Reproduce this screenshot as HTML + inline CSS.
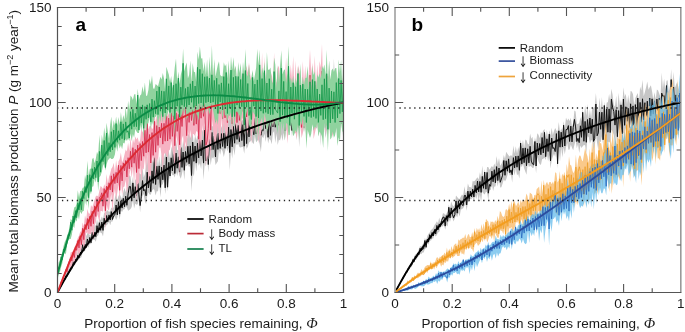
<!DOCTYPE html>
<html><head><meta charset="utf-8"><title>Biomass production</title>
<style>
html,body{margin:0;padding:0;background:#fff;width:685px;height:332px;overflow:hidden}
svg{display:block}
text{font-family:"Liberation Sans",Arial,sans-serif;fill:#1a1a1a}
.t{font-size:13.5px}
.l{font-size:13.5px}
.g{font-size:11.5px}
.ar{font-family:"Noto Serif CJK SC","WenQuanYi Zen Hei",serif;font-size:11.5px;stroke:#1a1a1a;stroke-width:0.4px}
.pl{font-size:19px;font-weight:bold;fill:#000}
</style></head><body>
<svg width="685" height="332" viewBox="0 0 685 332">
<defs><clipPath id="ca"><rect x="57.5" y="7.5" width="286.0" height="285.0"/></clipPath><clipPath id="cb"><rect x="395.0" y="7.5" width="285.8" height="285.0"/></clipPath></defs>
<rect width="685" height="332" fill="#fff"/>
<g clip-path="url(#ca)">
<path d="M57.5 292.0L58.7 287.7L59.9 286.9L61.1 284.5L62.3 281.5L63.5 279.2L64.7 277.5L65.9 272.5L67.1 273.0L68.3 268.6L69.5 267.2L70.7 266.5L71.9 262.4L73.1 259.5L74.3 259.9L75.4 255.4L76.6 257.4L77.8 250.4L79.0 249.5L80.2 247.2L81.4 245.3L82.6 242.5L83.8 244.3L85.0 241.2L86.2 236.1L87.4 233.3L88.6 232.5L89.8 235.2L91.0 235.5L92.2 229.5L93.4 230.7L94.6 224.2L95.8 226.0L97.0 219.4L98.2 225.0L99.4 217.8L100.6 220.3L101.8 216.4L103.0 218.9L104.2 212.7L105.4 213.2L106.6 210.9L107.8 210.2L109.0 211.9L110.2 211.1L111.3 207.4L112.5 208.3L113.7 207.2L114.9 197.5L116.1 193.5L117.3 200.1L118.5 195.9L119.7 194.3L120.9 196.8L122.1 199.3L123.3 192.1L124.5 187.7L125.7 192.3L126.9 187.4L128.1 185.4L129.3 175.1L130.5 176.4L131.7 185.5L132.9 176.7L134.1 188.0L135.3 179.1L136.5 180.9L137.7 170.4L138.9 171.9L140.1 174.3L141.3 174.1L142.5 167.2L143.7 177.4L144.9 173.9L146.1 165.2L147.2 156.3L148.4 169.7L149.6 164.0L150.8 164.9L152.0 158.9L153.2 163.6L154.4 142.1L155.6 162.9L156.8 154.2L158.0 166.3L159.2 156.3L160.4 166.7L161.6 154.5L162.8 154.5L164.0 158.6L165.2 152.8L166.4 140.1L167.6 148.4L168.8 151.2L170.0 159.3L171.2 148.9L172.4 145.0L173.6 142.4L174.8 146.5L176.0 138.7L177.2 150.0L178.4 150.2L179.6 149.6L180.8 138.0L182.0 150.6L183.1 140.3L184.3 145.7L185.5 146.7L186.7 140.0L187.9 134.8L189.1 133.9L190.3 138.0L191.5 132.5L192.7 134.2L193.9 144.2L195.1 134.4L196.3 140.2L197.5 135.2L198.7 138.7L199.9 123.8L201.1 140.2L202.3 130.3L203.5 130.8L204.7 124.9L205.9 130.9L207.1 123.6L208.3 133.9L209.5 127.6L210.7 121.6L211.9 125.9L213.1 126.6L214.3 116.4L215.5 134.3L216.7 127.0L217.9 124.2L219.0 113.5L220.2 129.7L221.4 126.1L222.6 130.7L223.8 117.9L225.0 120.1L226.2 122.2L227.4 113.4L228.6 121.6L229.8 112.2L231.0 115.8L232.2 127.1L233.4 113.5L234.6 116.1L235.8 104.8L237.0 122.7L238.2 115.7L239.4 110.3L240.6 104.2L241.8 121.0L243.0 119.4L244.2 121.9L245.4 92.3L246.6 115.2L247.8 110.1L249.0 119.7L250.2 112.2L251.4 117.1L252.6 89.2L253.8 112.3L254.9 110.6L256.1 115.0L257.3 103.9L258.5 112.4L259.7 108.7L260.9 106.2L262.1 100.8L263.3 115.0L264.5 95.2L265.7 112.0L266.9 96.5L268.1 104.1L269.3 103.6L270.5 98.6L271.7 100.1L272.9 108.9L274.1 92.3L275.3 101.8L276.5 84.5L277.7 106.3L278.9 94.6L280.1 97.0L281.3 79.4L282.5 95.5L283.7 80.1L284.9 92.0L286.1 96.2L287.3 103.6L288.5 75.1L289.7 105.8L290.8 83.7L292.0 104.5L293.2 76.3L294.4 100.3L295.6 98.4L296.8 101.1L298.0 87.7L299.2 93.1L300.4 84.1L301.6 92.9L302.8 89.5L304.0 86.1L305.2 87.6L306.4 93.6L307.6 86.3L308.8 94.7L310.0 79.7L311.2 89.2L312.4 87.4L313.6 93.4L314.8 84.4L316.0 81.2L317.2 85.4L318.4 96.9L319.6 81.9L320.8 89.9L322.0 84.8L323.2 87.3L324.4 83.0L325.6 87.3L326.7 93.8L327.9 94.8L329.1 60.9L330.3 86.4L331.5 91.6L332.7 90.5L333.9 58.5L335.1 86.6L336.3 70.8L337.5 81.3L338.7 79.0L339.9 80.4L341.1 75.7L342.3 82.4L343.5 72.5L343.5 114.6L342.3 136.0L341.1 115.2L339.9 135.7L338.7 124.1L337.5 122.6L336.3 129.2L335.1 133.3L333.9 121.6L332.7 124.2L331.5 117.7L330.3 125.8L329.1 130.5L327.9 128.6L326.7 130.7L325.6 138.2L324.4 127.7L323.2 126.0L322.0 117.1L320.8 145.9L319.6 119.5L318.4 120.9L317.2 127.8L316.0 128.7L314.8 126.0L313.6 130.4L312.4 119.1L311.2 131.4L310.0 132.4L308.8 131.7L307.6 129.1L306.4 142.1L305.2 119.9L304.0 133.0L302.8 120.1L301.6 132.1L300.4 125.0L299.2 147.3L298.0 123.7L296.8 140.6L295.6 126.8L294.4 132.6L293.2 124.5L292.0 137.1L290.8 124.2L289.7 134.6L288.5 127.6L287.3 131.8L286.1 129.2L284.9 140.6L283.7 132.8L282.5 141.0L281.3 134.3L280.1 140.5L278.9 139.4L277.7 145.1L276.5 133.6L275.3 142.9L274.1 131.1L272.9 133.0L271.7 144.2L270.5 139.9L269.3 138.7L268.1 143.6L266.9 133.0L265.7 141.9L264.5 133.7L263.3 138.3L262.1 136.4L260.9 151.9L259.7 144.2L258.5 139.6L257.3 140.7L256.1 142.3L254.9 135.3L253.8 144.1L252.6 143.0L251.4 139.8L250.2 141.8L249.0 142.4L247.8 146.7L246.6 149.0L245.4 143.2L244.2 153.8L243.0 146.8L241.8 147.0L240.6 147.5L239.4 147.1L238.2 143.2L237.0 145.3L235.8 143.5L234.6 155.5L233.4 147.2L232.2 158.4L231.0 148.8L229.8 170.3L228.6 147.6L227.4 151.6L226.2 146.5L225.0 152.1L223.8 157.1L222.6 151.6L221.4 148.8L220.2 154.8L219.0 149.9L217.9 161.3L216.7 163.0L215.5 165.0L214.3 156.0L213.1 158.8L211.9 156.9L210.7 165.2L209.5 154.6L208.3 172.3L207.1 156.3L205.9 166.2L204.7 162.5L203.5 180.1L202.3 158.1L201.1 169.2L199.9 162.9L198.7 165.7L197.5 161.0L196.3 171.4L195.1 161.9L193.9 176.6L192.7 173.3L191.5 191.6L190.3 165.0L189.1 167.2L187.9 164.5L186.7 166.2L185.5 165.4L184.3 180.1L183.1 167.4L182.0 174.0L180.8 178.8L179.6 176.1L178.4 170.9L177.2 176.0L176.0 171.0L174.8 177.4L173.6 174.9L172.4 175.3L171.2 172.5L170.0 179.6L168.8 173.9L167.6 191.3L166.4 184.4L165.2 193.9L164.0 180.4L162.8 184.0L161.6 185.5L160.4 197.3L159.2 182.5L158.0 191.4L156.8 190.9L155.6 195.5L154.4 190.1L153.2 189.1L152.0 190.8L150.8 194.7L149.6 194.6L148.4 192.2L147.2 195.9L146.1 204.1L144.9 201.6L143.7 194.1L142.5 195.8L141.3 200.0L140.1 212.6L138.9 198.9L137.7 204.2L136.5 204.8L135.3 203.5L134.1 208.5L132.9 199.4L131.7 206.9L130.5 209.0L129.3 209.9L128.1 210.8L126.9 207.5L125.7 206.8L124.5 209.3L123.3 209.5L122.1 212.1L120.9 210.7L119.7 219.8L118.5 212.0L117.3 217.5L116.1 220.1L114.9 216.7L113.7 217.5L112.5 221.5L111.3 221.4L110.2 225.3L109.0 221.4L107.8 224.2L106.6 225.1L105.4 226.7L104.2 227.6L103.0 236.5L101.8 233.2L100.6 232.6L99.4 232.3L98.2 235.5L97.0 236.3L95.8 241.8L94.6 239.8L93.4 239.8L92.2 240.7L91.0 244.5L89.8 243.0L88.6 247.4L87.4 246.6L86.2 248.4L85.0 250.7L83.8 252.0L82.6 252.4L81.4 257.2L80.2 257.9L79.0 259.6L77.8 260.1L76.6 261.7L75.4 264.2L74.3 265.5L73.1 266.4L71.9 270.0L70.7 270.6L69.5 272.6L68.3 274.9L67.1 276.7L65.9 278.2L64.7 280.7L63.5 282.0L62.3 284.6L61.1 286.8L59.9 288.8L58.7 290.6L57.5 292.8Z" fill="#c6c6c6"/>
<path d="M57.5 292.7L58.7 288.5L59.9 288.2L61.1 286.1L62.3 284.0L63.5 280.7L64.7 279.9L65.9 275.8L67.1 276.3L68.3 272.1L69.5 271.8L70.7 267.8L71.9 268.4L73.1 261.7L74.3 264.4L75.4 259.1L76.6 261.2L77.8 255.2L79.0 257.8L80.2 252.0L81.4 254.1L82.6 244.7L83.8 250.9L85.0 244.1L86.2 247.5L87.4 239.0L88.6 244.1L89.8 237.4L91.0 242.8L92.2 232.2L93.4 238.4L94.6 232.4L95.8 236.7L97.0 225.7L98.2 232.5L99.4 222.7L100.6 230.3L101.8 222.0L103.0 230.4L104.2 218.2L105.4 224.4L106.6 215.5L107.8 221.7L109.0 214.9L110.2 220.0L111.3 211.6L112.5 219.5L113.7 215.6L114.9 214.8L116.1 205.0L117.3 214.8L118.5 201.7L119.7 214.1L120.9 200.8L122.1 208.1L123.3 198.3L124.5 206.7L125.7 196.2L126.9 205.3L128.1 193.9L129.3 186.6L130.5 186.6L131.7 200.8L132.9 182.9L134.1 197.8L135.3 186.7L136.5 195.6L137.7 180.5L138.9 194.8L140.1 205.6L141.3 196.8L142.5 180.6L143.7 190.9L144.9 189.5L146.1 195.8L147.2 172.1L148.4 188.0L149.6 176.5L150.8 191.7L152.0 170.9L153.2 183.3L154.4 156.5L155.6 184.5L156.8 166.2L158.0 179.4L159.2 165.9L160.4 187.4L161.6 167.2L162.8 179.8L164.0 165.1L165.2 187.8L166.4 157.1L167.6 187.2L168.8 162.3L170.0 176.0L171.2 157.8L172.4 170.9L173.6 148.3L174.8 173.5L176.0 153.1L177.2 168.2L178.4 156.8L179.6 172.1L180.8 147.5L182.0 167.4L183.1 152.0L184.3 170.3L185.5 151.5L186.7 162.3L187.9 146.3L189.1 163.8L190.3 145.9L191.5 175.5L192.7 142.1L193.9 161.4L195.1 146.0L196.3 163.1L197.5 143.2L198.7 157.9L199.9 128.5L201.1 155.9L202.3 140.0L203.5 163.1L204.7 130.1L205.9 160.9L207.1 133.4L208.3 164.5L209.5 136.2L210.7 150.1L211.9 132.4L213.1 149.6L214.3 136.2L215.5 157.0L216.7 133.5L217.9 149.4L219.0 133.1L220.2 148.4L221.4 133.6L222.6 146.5L223.8 133.2L225.0 148.3L226.2 128.8L227.4 146.0L228.6 127.2L229.8 152.6L231.0 129.5L232.2 146.8L233.4 126.5L234.6 143.2L235.8 123.0L237.0 139.4L238.2 125.4L239.4 141.7L240.6 117.4L241.8 140.6L243.0 124.7L244.2 146.2L245.4 107.8L246.6 143.6L247.8 119.7L249.0 136.9L250.2 119.1L251.4 135.6L252.6 110.6L253.8 134.7L254.9 117.7L256.1 134.0L257.3 114.6L258.5 134.3L259.7 117.6L260.9 135.3L262.1 129.8L263.3 130.6L264.5 112.0L265.7 128.6L266.9 112.8L268.1 137.3L269.3 108.7L270.5 135.3L271.7 110.6L272.9 126.8L274.1 111.2L275.3 127.2L276.5 106.6L277.7 125.3L278.9 101.9L280.1 124.1L281.3 101.6L282.5 124.2L283.7 102.4L284.9 131.0L286.1 109.7L287.3 122.3L288.5 97.6L289.7 126.1L290.8 93.2L292.0 130.5L293.2 95.0L294.4 124.4L295.6 104.1L296.8 120.3L298.0 96.4L299.2 127.4L300.4 102.8L301.6 123.0L302.8 103.7L304.0 127.6L305.2 96.5L306.4 123.0L307.6 91.7L308.8 119.0L310.0 102.8L311.2 122.7L312.4 93.2L313.6 118.0L314.8 119.7L316.0 117.4L317.2 99.4L318.4 115.8L319.6 93.4L320.8 125.0L322.0 98.9L323.2 113.9L324.4 96.0L325.6 125.3L326.7 99.7L327.9 119.0L329.1 81.1L330.3 116.1L331.5 97.7L332.7 111.9L333.9 79.0L335.1 115.1L336.3 85.2L337.5 114.7L338.7 91.9L339.9 114.2L341.1 84.8L342.3 124.0L343.5 85.8" fill="none" stroke="#111111" stroke-width="1.00" stroke-linejoin="miter" stroke-miterlimit="3"/>
<path d="M57.5 291.6L58.7 288.3L59.9 284.4L61.1 279.9L62.3 279.0L63.5 275.3L64.7 271.9L65.9 268.8L67.1 265.0L68.3 262.4L69.5 259.4L70.7 252.3L71.9 252.2L73.1 250.6L74.3 247.9L75.4 245.4L76.6 241.2L77.8 238.0L79.0 235.8L80.2 231.8L81.4 231.3L82.6 222.5L83.8 226.6L85.0 215.2L86.2 219.9L87.4 209.1L88.6 213.3L89.8 213.7L91.0 205.0L92.2 207.3L93.4 204.1L94.6 199.8L95.8 196.2L97.0 195.5L98.2 196.6L99.4 190.4L100.6 185.9L101.8 187.1L103.0 189.1L104.2 184.2L105.4 187.3L106.6 173.9L107.8 183.8L109.0 177.1L110.2 173.6L111.3 168.8L112.5 166.9L113.7 162.8L114.9 172.7L116.1 160.1L117.3 169.0L118.5 161.2L119.7 159.1L120.9 152.6L122.1 162.4L123.3 159.4L124.5 154.6L125.7 149.4L126.9 151.4L128.1 142.8L129.3 150.9L130.5 137.4L131.7 149.7L132.9 138.4L134.1 143.2L135.3 136.6L136.5 139.4L137.7 137.2L138.9 142.6L140.1 140.2L141.3 129.0L142.5 131.8L143.7 133.3L144.9 114.0L146.1 135.0L147.2 117.8L148.4 129.6L149.6 125.9L150.8 125.9L152.0 128.7L153.2 128.4L154.4 111.0L155.6 122.7L156.8 114.7L158.0 120.2L159.2 114.8L160.4 116.0L161.6 111.8L162.8 117.9L164.0 111.5L165.2 118.1L166.4 98.7L167.6 116.4L168.8 112.8L170.0 107.1L171.2 92.5L172.4 107.3L173.6 93.4L174.8 111.5L176.0 104.0L177.2 96.1L178.4 108.8L179.6 108.1L180.8 104.7L182.0 104.3L183.1 99.8L184.3 89.0L185.5 99.1L186.7 102.9L187.9 92.0L189.1 106.0L190.3 94.7L191.5 100.7L192.7 93.1L193.9 103.4L195.1 81.8L196.3 100.5L197.5 83.2L198.7 98.0L199.9 86.8L201.1 101.4L202.3 81.5L203.5 91.7L204.7 88.4L205.9 92.1L207.1 79.6L208.3 93.1L209.5 93.9L210.7 90.6L211.9 75.3L213.1 68.1L214.3 86.0L215.5 86.6L216.7 86.7L217.9 90.5L219.0 80.1L220.2 88.1L221.4 86.2L222.6 91.0L223.8 78.0L225.0 89.0L226.2 81.4L227.4 93.5L228.6 88.1L229.8 72.6L231.0 87.1L232.2 90.8L233.4 64.2L234.6 70.0L235.8 66.2L237.0 91.0L238.2 67.9L239.4 86.3L240.6 65.0L241.8 84.0L243.0 74.8L244.2 87.5L245.4 65.0L246.6 67.0L247.8 72.7L249.0 62.6L250.2 74.2L251.4 80.7L252.6 71.8L253.8 88.0L254.9 79.0L256.1 78.1L257.3 72.4L258.5 83.9L259.7 61.1L260.9 84.6L262.1 52.4L263.3 89.0L264.5 56.6L265.7 83.8L266.9 72.0L268.1 85.2L269.3 69.6L270.5 79.1L271.7 73.0L272.9 83.4L274.1 52.6L275.3 82.9L276.5 82.2L277.7 68.2L278.9 65.5L280.1 88.1L281.3 68.9L282.5 81.5L283.7 78.9L284.9 81.6L286.1 57.2L287.3 86.9L288.5 71.8L289.7 80.2L290.8 64.6L292.0 80.1L293.2 56.0L294.4 89.5L295.6 60.6L296.8 85.6L298.0 65.1L299.2 70.1L300.4 76.2L301.6 88.9L302.8 60.9L304.0 83.7L305.2 65.6L306.4 84.6L307.6 84.7L308.8 73.0L310.0 49.5L311.2 73.8L312.4 62.8L313.6 83.6L314.8 55.5L316.0 88.4L317.2 64.3L318.4 80.7L319.6 60.9L320.8 67.7L322.0 43.6L323.2 90.6L324.4 69.8L325.6 88.1L326.7 77.2L327.9 74.9L329.1 78.3L330.3 79.6L331.5 81.6L332.7 76.4L333.9 76.9L335.1 83.8L336.3 76.6L337.5 80.0L338.7 79.9L339.9 75.8L341.1 74.8L342.3 81.4L343.5 79.9L343.5 123.9L342.3 121.1L341.1 118.8L339.9 129.2L338.7 118.0L337.5 127.7L336.3 123.6L335.1 121.1L333.9 119.3L332.7 137.5L331.5 131.7L330.3 132.8L329.1 115.7L327.9 137.1L326.7 116.1L325.6 134.6L324.4 119.3L323.2 129.8L322.0 133.5L320.8 123.2L319.6 116.8L318.4 136.4L317.2 118.8L316.0 127.9L314.8 133.4L313.6 139.0L312.4 113.4L311.2 128.2L310.0 123.5L308.8 127.1L307.6 118.3L306.4 119.8L305.2 130.2L304.0 125.5L302.8 133.2L301.6 137.9L300.4 125.7L299.2 130.1L298.0 114.6L296.8 138.8L295.6 133.1L294.4 133.3L293.2 126.8L292.0 126.1L290.8 113.4L289.7 120.5L288.5 128.8L287.3 143.8L286.1 119.7L284.9 139.8L283.7 111.1L282.5 123.8L281.3 122.2L280.1 139.2L278.9 124.9L277.7 114.8L276.5 121.8L275.3 123.5L274.1 120.2L272.9 127.0L271.7 121.0L270.5 115.9L269.3 112.5L268.1 128.5L266.9 129.1L265.7 125.2L264.5 121.7L263.3 123.3L262.1 112.0L260.9 138.7L259.7 131.6L258.5 143.5L257.3 128.1L256.1 134.2L254.9 117.5L253.8 132.7L252.6 125.2L251.4 143.8L250.2 128.1L249.0 116.2L247.8 135.0L246.6 128.2L245.4 112.9L244.2 135.0L243.0 117.4L241.8 121.3L240.6 131.2L239.4 139.1L238.2 113.8L237.0 131.0L235.8 125.8L234.6 121.8L233.4 123.1L232.2 133.8L231.0 119.8L229.8 119.6L228.6 118.4L227.4 133.5L226.2 138.5L225.0 131.2L223.8 121.7L222.6 141.3L221.4 116.7L220.2 144.0L219.0 139.4L217.9 125.4L216.7 136.5L215.5 145.1L214.3 141.4L213.1 129.9L211.9 118.2L210.7 159.1L209.5 138.7L208.3 159.7L207.1 155.3L205.9 166.9L204.7 122.2L203.5 136.9L202.3 125.0L201.1 149.4L199.9 139.2L198.7 150.9L197.5 131.9L196.3 131.1L195.1 136.3L193.9 134.3L192.7 133.8L191.5 140.7L190.3 129.8L189.1 141.2L187.9 130.3L186.7 149.5L185.5 141.6L184.3 152.4L183.1 135.4L182.0 138.3L180.8 150.0L179.6 176.0L178.4 152.5L177.2 140.8L176.0 135.2L174.8 166.0L173.6 158.0L172.4 148.6L171.2 140.4L170.0 149.6L168.8 150.7L167.6 157.7L166.4 155.3L165.2 152.4L164.0 154.4L162.8 170.3L161.6 156.2L160.4 147.6L159.2 147.7L158.0 161.3L156.8 157.4L155.6 177.4L154.4 157.0L153.2 162.4L152.0 156.2L150.8 175.9L149.6 174.2L148.4 183.3L147.2 153.6L146.1 173.3L144.9 156.5L143.7 169.6L142.5 168.3L141.3 182.2L140.1 165.3L138.9 182.8L137.7 184.2L136.5 201.7L135.3 163.6L134.1 184.3L132.9 167.2L131.7 177.7L130.5 168.3L129.3 176.0L128.1 185.1L126.9 193.7L125.7 179.5L124.5 186.6L123.3 187.1L122.1 195.6L120.9 178.4L119.7 200.6L118.5 184.0L117.3 192.6L116.1 199.6L114.9 189.1L113.7 196.6L112.5 213.4L111.3 193.7L110.2 200.4L109.0 210.5L107.8 209.2L106.6 204.3L105.4 230.8L104.2 200.8L103.0 211.7L101.8 211.0L100.6 210.9L99.4 222.6L98.2 217.1L97.0 214.1L95.8 222.3L94.6 225.6L93.4 240.2L92.2 229.4L91.0 234.6L89.8 233.8L88.6 234.3L87.4 232.4L86.2 232.9L85.0 243.6L83.8 247.2L82.6 242.2L81.4 248.3L80.2 251.3L79.0 257.4L77.8 249.8L76.6 256.5L75.4 257.7L74.3 265.4L73.1 259.8L71.9 266.7L70.7 267.6L69.5 267.1L68.3 270.3L67.1 273.5L65.9 272.6L64.7 276.0L63.5 280.0L62.3 284.4L61.1 285.0L59.9 287.8L58.7 290.1L57.5 293.9Z" fill="#f6b3c3"/>
<path d="M57.5 292.8L58.7 289.0L59.9 286.8L61.1 282.2L62.3 282.6L63.5 275.9L64.7 274.9L65.9 269.7L67.1 271.8L68.3 263.9L69.5 260.4L70.7 257.4L71.9 261.1L73.1 252.5L74.3 257.5L75.4 246.8L76.6 250.3L77.8 240.6L79.0 247.9L80.2 235.9L81.4 244.7L82.6 228.3L83.8 239.7L85.0 224.5L86.2 229.6L87.4 218.5L88.6 229.0L89.8 216.3L91.0 226.3L92.2 211.3L93.4 223.7L94.6 205.9L95.8 216.5L97.0 198.8L98.2 211.5L99.4 197.3L100.6 196.8L101.8 192.8L103.0 206.2L104.2 188.6L105.4 210.8L106.6 186.1L107.8 197.6L109.0 182.8L110.2 189.9L111.3 175.8L112.5 192.1L113.7 173.8L114.9 183.6L116.1 172.4L117.3 182.9L118.5 165.2L119.7 190.3L120.9 165.5L122.1 180.9L123.3 162.9L124.5 170.8L125.7 160.5L126.9 177.0L128.1 157.7L129.3 168.8L130.5 151.3L131.7 167.1L132.9 147.7L134.1 163.2L135.3 149.2L136.5 172.5L137.7 145.1L138.9 168.6L140.1 143.6L141.3 160.6L142.5 141.5L143.7 156.2L144.9 130.3L146.1 152.8L147.2 122.9L148.4 152.1L149.6 134.5L150.8 163.0L152.0 132.6L153.2 155.4L154.4 121.3L155.6 152.2L156.8 125.6L158.0 145.4L159.2 127.0L160.4 137.9L161.6 123.3L162.8 144.1L164.0 123.3L165.2 141.2L166.4 110.4L167.6 141.0L168.8 118.0L170.0 139.2L171.2 112.8L172.4 136.4L173.6 113.3L174.8 145.7L176.0 112.9L177.2 131.4L178.4 114.3L179.6 144.8L180.8 111.4L182.0 126.5L183.1 110.1L184.3 103.1L185.5 109.2L186.7 135.7L187.9 102.6L189.1 122.4L190.3 104.5L191.5 120.5L192.7 108.0L193.9 125.4L195.1 105.1L196.3 124.1L197.5 100.5L198.7 139.2L199.9 99.3L201.1 118.2L202.3 97.3L203.5 116.3L204.7 100.8L205.9 145.1L207.1 141.2L208.3 128.8L209.5 100.8L210.7 130.1L211.9 84.0L213.1 93.7L214.3 93.9L215.5 121.8L216.7 98.5L217.9 113.5L219.0 92.6L220.2 113.6L221.4 93.7L222.6 118.7L223.8 96.0L225.0 117.9L226.2 92.2L227.4 122.6L228.6 95.4L229.8 111.2L231.0 94.1L232.2 123.8L233.4 92.3L234.6 112.5L235.8 94.6L237.0 122.6L238.2 91.2L239.4 120.4L240.6 91.0L241.8 111.4L243.0 90.4L244.2 124.9L245.4 92.1L246.6 117.0L247.8 85.7L249.0 75.3L250.2 92.8L251.4 124.2L252.6 93.2L253.8 110.9L254.9 87.1L256.1 116.5L257.3 85.7L258.5 128.1L259.7 89.5L260.9 111.4L262.1 83.5L263.3 111.0L264.5 87.6L265.7 110.2L266.9 82.5L268.1 118.0L269.3 84.6L270.5 109.7L271.7 82.8L272.9 110.3L274.1 79.5L275.3 114.4L276.5 90.3L277.7 107.9L278.9 91.0L280.1 111.0L281.3 88.1L282.5 91.9L283.7 88.5L284.9 114.5L286.1 83.1L287.3 115.8L288.5 87.3L289.7 113.3L290.8 88.9L292.0 116.2L293.2 84.8L294.4 115.1L295.6 88.4L296.8 120.2L298.0 87.8L299.2 115.8L300.4 85.9L301.6 127.5L302.8 90.8L304.0 118.8L305.2 87.2L306.4 109.7L307.6 108.5L308.8 116.7L310.0 75.2L311.2 114.6L312.4 85.4L313.6 122.2L314.8 85.1L316.0 116.6L317.2 87.8L318.4 114.5L319.6 90.4L320.8 113.3L322.0 71.2L323.2 111.3L324.4 91.1L325.6 117.3L326.7 94.7L327.9 110.3L329.1 92.6L330.3 117.0L331.5 88.2L332.7 114.5L333.9 84.3L335.1 110.1L336.3 88.7L337.5 111.3L338.7 91.8L339.9 118.8L341.1 94.5L342.3 111.9L343.5 90.4" fill="none" stroke="#d42c4c" stroke-width="0.85" stroke-linejoin="miter" stroke-miterlimit="3"/>
<path d="M57.5 271.9L58.7 262.3L59.9 260.0L61.1 254.9L62.3 252.8L63.5 246.2L64.7 241.9L65.9 239.5L67.1 235.8L68.3 232.4L69.5 227.3L70.7 219.1L71.9 220.3L73.1 212.9L74.3 207.2L75.4 207.1L76.6 203.8L77.8 190.3L79.0 197.5L80.2 191.0L81.4 190.9L82.6 187.7L83.8 187.6L85.0 175.0L86.2 180.2L87.4 160.7L88.6 176.3L89.8 169.0L91.0 168.4L92.2 159.0L93.4 157.8L94.6 163.2L95.8 158.7L97.0 151.8L98.2 154.7L99.4 134.7L100.6 152.5L101.8 134.8L103.0 141.8L104.2 127.2L105.4 138.0L106.6 122.7L107.8 131.6L109.0 138.7L110.2 124.4L111.3 116.6L112.5 130.1L113.7 120.2L114.9 125.5L116.1 116.4L117.3 125.8L118.5 117.0L119.7 125.1L120.9 112.1L122.1 122.1L123.3 115.1L124.5 119.8L125.7 106.7L126.9 118.6L128.1 100.8L129.3 110.0L130.5 95.6L131.7 96.9L132.9 100.1L134.1 94.5L135.3 94.1L136.5 104.2L137.7 88.6L138.9 99.9L140.1 95.5L141.3 94.2L142.5 86.3L143.7 92.8L144.9 82.4L146.1 95.9L147.2 95.5L148.4 90.0L149.6 78.7L150.8 84.2L152.0 75.3L153.2 88.6L154.4 88.8L155.6 84.1L156.8 85.0L158.0 86.3L159.2 81.4L160.4 76.8L161.6 79.6L162.8 73.0L164.0 78.6L165.2 91.6L166.4 66.7L167.6 70.8L168.8 74.4L170.0 82.0L171.2 76.1L172.4 88.2L173.6 79.3L174.8 67.0L176.0 58.4L177.2 82.0L178.4 71.4L179.6 84.1L180.8 74.7L182.0 69.9L183.1 48.6L184.3 71.5L185.5 66.1L186.7 62.5L187.9 78.5L189.1 75.1L190.3 60.5L191.5 82.6L192.7 63.1L193.9 71.8L195.1 72.2L196.3 82.3L197.5 51.5L198.7 59.8L199.9 46.4L201.1 58.6L202.3 58.3L203.5 71.6L204.7 61.7L205.9 75.0L207.1 59.3L208.3 79.7L209.5 56.5L210.7 75.4L211.9 45.2L213.1 78.9L214.3 59.1L215.5 76.9L216.7 70.2L217.9 64.4L219.0 61.3L220.2 75.0L221.4 76.3L222.6 76.2L223.8 62.3L225.0 66.6L226.2 64.1L227.4 78.4L228.6 60.5L229.8 79.9L231.0 56.2L232.2 70.0L233.4 57.3L234.6 70.9L235.8 65.6L237.0 82.6L238.2 62.1L239.4 73.0L240.6 62.9L241.8 80.4L243.0 61.7L244.2 73.9L245.4 49.1L246.6 73.9L247.8 76.6L249.0 64.5L250.2 80.4L251.4 77.3L252.6 70.0L253.8 81.3L254.9 75.1L256.1 67.9L257.3 48.7L258.5 65.3L259.7 49.8L260.9 80.8L262.1 67.5L263.3 73.3L264.5 61.9L265.7 86.7L266.9 52.0L268.1 69.8L269.3 69.8L270.5 67.5L271.7 80.2L272.9 84.1L274.1 57.5L275.3 64.5L276.5 88.0L277.7 64.9L278.9 82.8L280.1 65.9L281.3 50.2L282.5 74.4L283.7 70.5L284.9 69.3L286.1 82.7L287.3 73.6L288.5 45.9L289.7 82.4L290.8 77.2L292.0 84.1L293.2 75.4L294.4 86.5L295.6 77.7L296.8 83.3L298.0 66.1L299.2 87.7L300.4 63.8L301.6 89.1L302.8 76.6L304.0 85.6L305.2 78.0L306.4 77.7L307.6 65.9L308.8 88.8L310.0 73.5L311.2 90.9L312.4 65.8L313.6 74.9L314.8 71.5L316.0 90.5L317.2 74.6L318.4 77.6L319.6 73.2L320.8 79.0L322.0 65.8L323.2 69.0L324.4 64.4L325.6 75.8L326.7 49.8L327.9 83.2L329.1 60.3L330.3 79.7L331.5 70.5L332.7 68.5L333.9 72.0L335.1 68.3L336.3 67.9L337.5 81.8L338.7 59.6L339.9 73.1L341.1 59.4L342.3 86.5L343.5 53.4L343.5 132.9L342.3 130.9L341.1 121.5L339.9 142.3L338.7 137.2L337.5 145.9L336.3 127.6L335.1 135.2L333.9 137.7L332.7 131.5L331.5 137.8L330.3 139.4L329.1 119.2L327.9 151.0L326.7 123.2L325.6 129.5L324.4 122.8L323.2 148.0L322.0 136.4L320.8 133.4L319.6 131.5L318.4 136.6L317.2 122.9L316.0 127.8L314.8 126.8L313.6 130.8L312.4 124.3L311.2 134.0L310.0 137.9L308.8 134.1L307.6 129.6L306.4 148.7L305.2 121.9L304.0 132.0L302.8 117.3L301.6 125.4L300.4 120.8L299.2 139.9L298.0 124.1L296.8 132.9L295.6 130.2L294.4 134.0L293.2 136.2L292.0 127.7L290.8 121.3L289.7 135.0L288.5 135.3L287.3 124.3L286.1 122.7L284.9 140.5L283.7 121.7L282.5 130.8L281.3 121.4L280.1 139.2L278.9 117.8L277.7 133.3L276.5 127.1L275.3 124.1L274.1 117.9L272.9 125.0L271.7 121.2L270.5 127.7L269.3 121.0L268.1 126.9L266.9 132.2L265.7 119.6L264.5 113.6L263.3 131.1L262.1 116.9L260.9 121.0L259.7 123.8L258.5 138.2L257.3 112.4L256.1 142.8L254.9 115.1L253.8 113.4L252.6 110.9L251.4 127.8L250.2 127.7L249.0 124.6L247.8 108.1L246.6 112.6L245.4 118.0L244.2 134.9L243.0 107.9L241.8 114.4L240.6 122.3L239.4 115.4L238.2 113.5L237.0 111.2L235.8 112.4L234.6 127.2L233.4 110.2L232.2 128.0L231.0 112.0L229.8 116.3L228.6 114.2L227.4 122.1L226.2 114.8L225.0 115.8L223.8 105.2L222.6 121.1L221.4 108.7L220.2 114.7L219.0 107.2L217.9 124.9L216.7 118.7L215.5 123.9L214.3 116.6L213.1 110.5L211.9 103.7L210.7 108.2L209.5 115.0L208.3 108.7L207.1 107.5L205.9 112.8L204.7 103.2L203.5 114.6L202.3 104.8L201.1 113.6L199.9 103.4L198.7 120.4L197.5 116.0L196.3 113.2L195.1 103.8L193.9 123.9L192.7 109.6L191.5 112.3L190.3 112.5L189.1 111.9L187.9 116.8L186.7 119.7L185.5 106.0L184.3 114.5L183.1 107.7L182.0 114.2L180.8 115.9L179.6 121.0L178.4 112.9L177.2 111.0L176.0 111.3L174.8 135.1L173.6 115.2L172.4 117.4L171.2 111.3L170.0 122.8L168.8 109.8L167.6 113.9L166.4 116.8L165.2 121.5L164.0 111.1L162.8 122.8L161.6 112.6L160.4 122.6L159.2 115.1L158.0 129.6L156.8 114.5L155.6 116.9L154.4 117.5L153.2 125.5L152.0 121.6L150.8 129.8L149.6 116.8L148.4 123.2L147.2 123.7L146.1 130.4L144.9 121.1L143.7 139.3L142.5 122.6L141.3 131.3L140.1 124.5L138.9 133.1L137.7 132.9L136.5 131.4L135.3 129.1L134.1 137.8L132.9 133.9L131.7 141.3L130.5 133.4L129.3 141.1L128.1 138.3L126.9 141.0L125.7 138.7L124.5 143.4L123.3 142.8L122.1 149.2L120.9 145.1L119.7 148.6L118.5 143.1L117.3 151.8L116.1 145.4L114.9 154.4L113.7 157.9L112.5 159.0L111.3 159.0L110.2 157.8L109.0 159.1L107.8 160.6L106.6 164.5L105.4 170.6L104.2 163.4L103.0 165.9L101.8 171.7L100.6 175.8L99.4 177.3L98.2 191.1L97.0 173.4L95.8 182.7L94.6 178.8L93.4 186.3L92.2 186.8L91.0 194.6L89.8 191.3L88.6 208.9L87.4 194.9L86.2 205.7L85.0 199.0L83.8 210.9L82.6 211.2L81.4 213.9L80.2 211.4L79.0 219.6L77.8 215.1L76.6 221.6L75.4 219.9L74.3 228.0L73.1 226.2L71.9 234.6L70.7 239.0L69.5 238.9L68.3 240.5L67.1 244.6L65.9 254.5L64.7 252.5L63.5 255.7L62.3 263.3L61.1 267.1L59.9 272.2L58.7 274.0L57.5 280.8Z" fill="#8fd39e"/>
<path d="M57.5 276.0L58.7 267.1L59.9 266.7L61.1 256.9L62.3 259.6L63.5 249.1L64.7 251.1L65.9 247.7L67.1 242.7L68.3 234.3L69.5 235.5L70.7 222.1L71.9 230.2L73.1 216.0L74.3 222.4L75.4 210.6L76.6 217.7L77.8 202.8L79.0 209.9L80.2 198.7L81.4 209.8L82.6 191.2L83.8 198.6L85.0 186.5L86.2 192.5L87.4 175.2L88.6 197.7L89.8 174.7L91.0 191.4L92.2 168.7L93.4 178.9L94.6 167.0L95.8 177.7L97.0 161.0L98.2 181.9L99.4 151.4L100.6 172.2L101.8 145.1L103.0 161.7L104.2 140.5L105.4 167.5L106.6 133.0L107.8 155.5L109.0 142.7L110.2 151.8L111.3 131.7L112.5 150.0L113.7 130.0L114.9 147.4L116.1 123.6L117.3 142.3L118.5 130.8L119.7 140.2L120.9 121.8L122.1 138.7L123.3 123.9L124.5 140.1L125.7 121.9L126.9 132.3L128.1 130.8L129.3 138.1L130.5 111.7L131.7 129.2L132.9 109.4L134.1 126.7L135.3 113.3L136.5 126.7L137.7 95.0L138.9 130.1L140.1 106.8L141.3 123.1L142.5 104.9L143.7 128.3L144.9 106.6L146.1 119.3L147.2 104.8L148.4 117.9L149.6 103.5L150.8 121.8L152.0 99.1L153.2 117.2L154.4 100.7L155.6 113.7L156.8 91.1L158.0 114.6L159.2 86.9L160.4 111.2L161.6 90.9L162.8 116.7L164.0 91.3L165.2 113.0L166.4 78.8L167.6 109.8L168.8 85.9L170.0 112.5L171.2 82.6L172.4 109.0L173.6 85.2L174.8 119.4L176.0 83.7L177.2 106.2L178.4 78.1L179.6 117.2L180.8 87.1L182.0 105.2L183.1 63.3L184.3 106.7L185.5 88.5L186.7 106.9L187.9 86.9L189.1 105.0L190.3 83.8L191.5 102.3L192.7 81.0L193.9 107.4L195.1 86.0L196.3 106.0L197.5 67.3L198.7 103.6L199.9 69.3L201.1 102.9L202.3 73.7L203.5 106.4L204.7 76.8L205.9 102.7L207.1 76.5L208.3 101.9L209.5 78.0L210.7 102.9L211.9 74.8L213.1 102.2L214.3 80.4L215.5 104.6L216.7 78.2L217.9 113.5L219.0 84.5L220.2 102.1L221.4 82.9L222.6 110.0L223.8 76.6L225.0 106.7L226.2 72.5L227.4 113.6L228.6 83.7L229.8 107.9L231.0 70.1L232.2 116.8L233.4 77.3L234.6 116.5L235.8 76.3L237.0 105.1L238.2 76.5L239.4 108.0L240.6 79.5L241.8 106.7L243.0 73.6L244.2 125.1L245.4 70.5L246.6 107.2L247.8 83.5L249.0 115.5L250.2 109.3L251.4 119.5L252.6 77.4L253.8 106.2L254.9 84.1L256.1 116.6L257.3 79.9L258.5 118.0L259.7 64.9L260.9 111.1L262.1 78.6L263.3 113.3L264.5 70.7L265.7 112.4L266.9 83.0L268.1 113.8L269.3 78.7L270.5 114.7L271.7 89.2L272.9 114.6L274.1 71.6L275.3 109.8L276.5 110.8L277.7 113.1L278.9 90.9L280.1 121.7L281.3 68.1L282.5 115.1L283.7 81.4L284.9 116.4L286.1 91.6L287.3 118.1L288.5 66.2L289.7 125.3L290.8 87.0L292.0 113.2L293.2 82.7L294.4 119.2L295.6 86.8L296.8 112.8L298.0 73.5L299.2 125.5L300.4 85.0L301.6 112.4L302.8 84.1L304.0 116.4L305.2 89.0L306.4 122.5L307.6 89.3L308.8 116.5L310.0 81.8L311.2 117.6L312.4 79.6L313.6 116.5L314.8 81.3L316.0 118.4L317.2 89.0L318.4 122.4L319.6 94.1L320.8 115.4L322.0 84.8L323.2 119.7L324.4 78.8L325.6 118.7L326.7 73.7L327.9 129.3L329.1 88.1L330.3 122.9L331.5 91.1L332.7 118.9L333.9 91.8L335.1 122.5L336.3 82.6L337.5 117.9L338.7 78.5L339.9 113.6L341.1 80.4L342.3 111.9L343.5 82.2" fill="none" stroke="#169a4c" stroke-width="0.85" stroke-linejoin="miter" stroke-miterlimit="3"/>
<path d="M57.5 292.5L60.4 287.1L63.3 281.9L66.2 276.8L69.1 271.9L71.9 267.2L74.8 262.6L77.7 258.2L80.6 253.9L83.5 249.7L86.4 245.7L89.3 241.8L92.2 238.0L95.1 234.3L97.9 230.7L100.8 227.3L103.7 223.9L106.6 220.7L109.5 217.5L112.4 214.4L115.3 211.4L118.2 208.5L121.1 205.7L123.9 202.9L126.8 200.2L129.7 197.6L132.6 195.1L135.5 192.6L138.4 190.2L141.3 187.8L144.2 185.5L147.1 183.3L149.9 181.1L152.8 178.9L155.7 176.9L158.6 174.8L161.5 172.8L164.4 170.9L167.3 169.0L170.2 167.1L173.1 165.3L175.9 163.5L178.8 161.8L181.7 160.1L184.6 158.4L187.5 156.8L190.4 155.2L193.3 153.7L196.2 152.1L199.1 150.6L201.9 149.1L204.8 147.7L207.7 146.3L210.6 144.9L213.5 143.5L216.4 142.2L219.3 140.9L222.2 139.6L225.1 138.4L227.9 137.1L230.8 135.9L233.7 134.7L236.6 133.6L239.5 132.4L242.4 131.3L245.3 130.2L248.2 129.1L251.1 128.0L253.9 127.0L256.8 125.9L259.7 124.9L262.6 123.9L265.5 123.0L268.4 122.0L271.3 121.1L274.2 120.1L277.1 119.2L279.9 118.4L282.8 117.5L285.7 116.6L288.6 115.8L291.5 115.0L294.4 114.1L297.3 113.3L300.2 112.6L303.1 111.8L305.9 111.0L308.8 110.3L311.7 109.6L314.6 108.9L317.5 108.2L320.4 107.5L323.3 106.8L326.2 106.2L329.1 105.5L331.9 104.9L334.8 104.3L337.7 103.7L340.6 103.1L343.5 102.5" fill="none" stroke="#000" stroke-width="1.90" stroke-linecap="butt" stroke-linejoin="round"/>
<path d="M57.5 292.5L60.4 284.8L63.3 277.4L66.2 270.1L69.1 263.1L71.9 256.3L74.8 249.7L77.7 243.3L80.6 237.1L83.5 231.1L86.4 225.4L89.3 219.8L92.2 214.3L95.1 209.1L97.9 204.1L100.8 199.2L103.7 194.5L106.6 189.9L109.5 185.5L112.4 181.3L115.3 177.2L118.2 173.3L121.1 169.5L123.9 165.9L126.8 162.4L129.7 159.0L132.6 155.8L135.5 152.7L138.4 149.7L141.3 146.8L144.2 144.1L147.1 141.4L149.9 138.9L152.8 136.5L155.7 134.2L158.6 132.0L161.5 129.9L164.4 127.9L167.3 126.0L170.2 124.2L173.1 122.5L175.9 120.8L178.8 119.2L181.7 117.8L184.6 116.4L187.5 115.0L190.4 113.8L193.3 112.6L196.2 111.5L199.1 110.5L201.9 109.5L204.8 108.6L207.7 107.7L210.6 106.9L213.5 106.2L216.4 105.5L219.3 104.9L222.2 104.3L225.1 103.7L227.9 103.2L230.8 102.8L233.7 102.4L236.6 102.0L239.5 101.7L242.4 101.4L245.3 101.2L248.2 100.9L251.1 100.7L253.9 100.6L256.8 100.5L259.7 100.4L262.6 100.3L265.5 100.2L268.4 100.2L271.3 100.2L274.2 100.2L277.1 100.2L279.9 100.3L282.8 100.3L285.7 100.4L288.6 100.5L291.5 100.6L294.4 100.7L297.3 100.8L300.2 100.9L303.1 101.0L305.9 101.2L308.8 101.3L311.7 101.5L314.6 101.6L317.5 101.7L320.4 101.9L323.3 102.0L326.2 102.2L329.1 102.3L331.9 102.4L334.8 102.6L337.7 102.7L340.6 102.8L343.5 102.9" fill="none" stroke="#dc2a32" stroke-width="1.90" stroke-linecap="butt" stroke-linejoin="round"/>
<path d="M57.5 274.0L60.4 263.5L63.3 253.4L66.2 243.7L69.1 234.4L71.9 225.5L74.8 217.1L77.7 209.2L80.6 201.7L83.5 194.8L86.4 188.3L89.3 182.2L92.2 176.5L95.1 171.1L97.9 166.0L100.8 161.2L103.7 156.6L106.6 152.2L109.5 148.1L112.4 144.2L115.3 140.5L118.2 137.0L121.1 133.8L123.9 130.7L126.8 127.8L129.7 125.1L132.6 122.6L135.5 120.2L138.4 118.0L141.3 116.0L144.2 114.0L147.1 112.3L149.9 110.6L152.8 109.0L155.7 107.6L158.6 106.2L161.5 105.0L164.4 103.8L167.3 102.7L170.2 101.7L173.1 100.8L175.9 100.0L178.8 99.2L181.7 98.6L184.6 98.0L187.5 97.4L190.4 97.0L193.3 96.6L196.2 96.2L199.1 95.9L201.9 95.7L204.8 95.5L207.7 95.4L210.6 95.4L213.5 95.3L216.4 95.4L219.3 95.4L222.2 95.5L225.1 95.7L227.9 95.9L230.8 96.1L233.7 96.3L236.6 96.6L239.5 96.9L242.4 97.2L245.3 97.5L248.2 97.9L251.1 98.2L253.9 98.6L256.8 99.0L259.7 99.4L262.6 99.8L265.5 100.2L268.4 100.5L271.3 100.9L274.2 101.3L277.1 101.7L279.9 102.1L282.8 102.4L285.7 102.7L288.6 103.0L291.5 103.3L294.4 103.6L297.3 103.8L300.2 104.1L303.1 104.2L305.9 104.4L308.8 104.5L311.7 104.6L314.6 104.6L317.5 104.6L320.4 104.5L323.3 104.4L326.2 104.2L329.1 104.0L331.9 103.7L334.8 103.4L337.7 103.0L340.6 102.5L343.5 102.0" fill="none" stroke="#0b8c46" stroke-width="1.90" stroke-linecap="butt" stroke-linejoin="round"/>
</g>
<path d="M57.5 108.0H343.5M57.5 200.5H343.5" stroke="#222" stroke-width="1.3" stroke-dasharray="1.3 3.631" stroke-dashoffset="0.5" fill="none"/>
<path d="M57.5 7.5V292.5" stroke="#525252" stroke-width="1.20" fill="none"/>
<path d="M343.5 7.5V292.5" stroke="#525252" stroke-width="1.20" fill="none"/>
<path d="M56.9 7.5H344.1M56.9 292.5H344.1" stroke="#525252" stroke-width="1.2" fill="none"/>
<path d="M86.1 292.5v-4.2M86.1 7.5v4.2M114.7 292.5v-8.5M114.7 7.5v8.5M143.3 292.5v-4.2M143.3 7.5v4.2M171.9 292.5v-8.5M171.9 7.5v8.5M200.5 292.5v-4.2M200.5 7.5v4.2M229.1 292.5v-8.5M229.1 7.5v8.5M257.7 292.5v-4.2M257.7 7.5v4.2M286.3 292.5v-8.5M286.3 7.5v8.5M314.9 292.5v-4.2M314.9 7.5v4.2" stroke="#525252" stroke-width="1.1" fill="none"/>
<path d="M57.5 273.5h4.2M343.5 273.5h-4.2M57.5 254.5h4.2M343.5 254.5h-4.2M57.5 235.5h4.2M343.5 235.5h-4.2M57.5 216.5h4.2M343.5 216.5h-4.2M57.5 197.5h8.2M343.5 197.5h-8.2M57.5 178.5h4.2M343.5 178.5h-4.2M57.5 159.5h4.2M343.5 159.5h-4.2M57.5 140.5h4.2M343.5 140.5h-4.2M57.5 121.5h4.2M343.5 121.5h-4.2M57.5 102.5h8.2M343.5 102.5h-8.2M57.5 83.5h4.2M343.5 83.5h-4.2M57.5 64.5h4.2M343.5 64.5h-4.2M57.5 45.5h4.2M343.5 45.5h-4.2M57.5 26.5h4.2M343.5 26.5h-4.2" stroke="#525252" stroke-width="1.1" fill="none"/>
<text x="51.5" y="297.3" text-anchor="end" class="t">0</text>
<text x="51.5" y="202.3" text-anchor="end" class="t">50</text>
<text x="51.5" y="107.3" text-anchor="end" class="t">100</text>
<text x="51.5" y="12.3" text-anchor="end" class="t">150</text>
<text x="57.5" y="308.2" text-anchor="middle" class="t">0</text>
<text x="114.7" y="308.2" text-anchor="middle" class="t">0.2</text>
<text x="171.9" y="308.2" text-anchor="middle" class="t">0.4</text>
<text x="229.1" y="308.2" text-anchor="middle" class="t">0.6</text>
<text x="286.3" y="308.2" text-anchor="middle" class="t">0.8</text>
<text x="343.5" y="308.2" text-anchor="middle" class="t">1</text>
<text x="200.9" y="327.8" text-anchor="middle" class="l">Proportion of fish species remaining, <tspan font-family="Liberation Serif" font-style="italic" font-size="15">Φ</tspan></text>
<g clip-path="url(#cb)">
<path d="M395.0 292.0L396.2 289.4L397.4 287.1L398.6 285.0L399.8 282.9L401.0 279.3L402.2 278.2L403.4 275.4L404.6 274.1L405.8 271.6L407.0 269.6L408.2 266.2L409.3 265.7L410.5 263.5L411.7 261.4L412.9 258.1L414.1 258.4L415.3 254.4L416.5 253.4L417.7 252.1L418.9 249.1L420.1 245.9L421.3 246.6L422.5 244.8L423.7 242.4L424.9 237.9L426.1 240.4L427.3 236.0L428.5 233.8L429.7 232.6L430.9 230.0L432.1 229.2L433.3 227.7L434.5 225.1L435.7 223.6L436.9 221.3L438.0 223.3L439.2 217.5L440.4 222.0L441.6 218.9L442.8 213.5L444.0 213.3L445.2 215.0L446.4 213.8L447.6 211.3L448.8 204.5L450.0 208.9L451.2 201.4L452.4 205.1L453.6 206.4L454.8 204.3L456.0 195.4L457.2 196.9L458.4 198.6L459.6 199.1L460.8 196.5L462.0 194.6L463.2 195.8L464.4 186.3L465.6 193.2L466.7 192.0L467.9 183.6L469.1 186.9L470.3 187.0L471.5 188.1L472.7 180.7L473.9 181.4L475.1 180.4L476.3 178.7L477.5 177.3L478.7 179.4L479.9 172.3L481.1 177.9L482.3 165.5L483.5 178.3L484.7 169.0L485.9 176.5L487.1 167.0L488.3 167.0L489.5 169.7L490.7 167.7L491.9 165.9L493.1 167.4L494.3 163.4L495.4 166.8L496.6 156.0L497.8 164.0L499.0 158.0L500.2 165.8L501.4 164.1L502.6 160.9L503.8 155.0L505.0 159.1L506.2 151.8L507.4 153.8L508.6 155.4L509.8 156.6L511.0 155.0L512.2 156.5L513.4 145.5L514.6 153.7L515.8 146.2L517.0 153.6L518.2 147.0L519.4 151.5L520.6 139.5L521.8 146.7L523.0 139.7L524.1 148.6L525.3 139.6L526.5 140.3L527.7 143.7L528.9 144.6L530.1 133.4L531.3 138.8L532.5 136.8L533.7 146.0L534.9 137.5L536.1 142.0L537.3 133.3L538.5 134.7L539.7 138.3L540.9 132.0L542.1 133.4L543.3 130.6L544.5 128.9L545.7 138.6L546.9 129.8L548.1 138.9L549.3 130.2L550.5 135.5L551.7 127.7L552.8 135.0L554.0 130.9L555.2 127.9L556.4 130.6L557.6 131.8L558.8 122.0L560.0 132.4L561.2 128.6L562.4 131.6L563.6 121.2L564.8 128.1L566.0 117.6L567.2 120.7L568.4 118.4L569.6 120.9L570.8 117.8L572.0 127.0L573.2 123.0L574.4 110.5L575.6 111.6L576.8 124.0L578.0 123.9L579.2 122.9L580.4 117.3L581.5 121.6L582.7 108.4L583.9 118.8L585.1 105.2L586.3 115.8L587.5 104.1L588.7 118.7L589.9 109.3L591.1 118.2L592.3 106.5L593.5 107.7L594.7 107.1L595.9 93.1L597.1 107.8L598.3 113.1L599.5 97.6L600.7 110.9L601.9 96.9L603.1 115.1L604.3 101.8L605.5 111.1L606.7 102.4L607.9 102.2L609.1 93.9L610.2 101.1L611.4 88.7L612.6 94.8L613.8 105.1L615.0 106.8L616.2 95.8L617.4 110.6L618.6 92.8L619.8 105.3L621.0 99.5L622.2 107.5L623.4 87.2L624.6 96.9L625.8 93.8L627.0 104.2L628.2 94.8L629.4 103.7L630.6 91.1L631.8 91.4L633.0 94.2L634.2 105.3L635.4 98.0L636.6 95.3L637.8 93.0L638.9 102.0L640.1 86.7L641.3 90.4L642.5 79.7L643.7 96.3L644.9 92.1L646.1 87.2L647.3 81.5L648.5 89.7L649.7 87.2L650.9 85.2L652.1 91.6L653.3 99.4L654.5 92.3L655.7 99.5L656.9 89.5L658.1 90.4L659.3 93.8L660.5 97.5L661.7 72.6L662.9 89.0L664.1 78.5L665.3 89.5L666.5 80.7L667.6 80.3L668.8 91.4L670.0 85.7L671.2 69.1L672.4 90.5L673.6 71.7L674.8 88.5L676.0 84.8L677.2 82.1L678.4 87.0L679.6 92.6L680.8 80.9L680.8 110.9L679.6 124.0L678.4 125.2L677.2 114.5L676.0 116.1L674.8 127.6L673.6 116.0L672.4 130.5L671.2 118.1L670.0 143.1L668.8 118.5L667.6 124.2L666.5 116.4L665.3 122.4L664.1 123.5L662.9 126.6L661.7 119.8L660.5 125.2L659.3 124.4L658.1 122.8L656.9 122.3L655.7 130.2L654.5 119.7L653.3 131.1L652.1 119.6L650.9 122.3L649.7 119.1L648.5 138.8L647.3 126.8L646.1 128.1L644.9 125.5L643.7 134.4L642.5 132.4L641.3 128.4L640.1 127.5L638.9 134.3L637.8 129.8L636.6 138.5L635.4 123.9L634.2 152.1L633.0 121.7L631.8 144.3L630.6 122.0L629.4 137.2L628.2 130.0L627.0 133.8L625.8 128.1L624.6 133.8L623.4 132.8L622.2 146.3L621.0 128.2L619.8 148.9L618.6 126.5L617.4 154.1L616.2 132.4L615.0 142.5L613.8 135.1L612.6 131.8L611.4 129.7L610.2 142.9L609.1 141.7L607.9 142.2L606.7 141.0L605.5 147.8L604.3 133.1L603.1 144.7L601.9 136.2L600.7 142.2L599.5 141.3L598.3 149.9L597.1 142.7L595.9 134.2L594.7 147.2L593.5 153.1L592.3 140.0L591.1 140.6L589.9 143.5L588.7 137.1L587.5 136.2L586.3 153.4L585.1 145.2L583.9 144.9L582.7 146.2L581.5 148.1L580.4 145.6L579.2 153.0L578.0 143.9L576.8 148.3L575.6 140.3L574.4 145.0L573.2 150.2L572.0 147.8L570.8 144.4L569.6 149.5L568.4 149.8L567.2 143.1L566.0 147.3L564.8 154.3L563.6 147.3L562.4 157.4L561.2 147.6L560.0 161.8L558.8 148.3L557.6 168.8L556.4 148.2L555.2 157.0L554.0 153.7L552.8 156.8L551.7 160.1L550.5 168.6L549.3 155.1L548.1 161.6L546.9 153.6L545.7 159.9L544.5 157.5L543.3 158.7L542.1 159.3L540.9 165.0L539.7 164.0L538.5 161.6L537.3 157.1L536.1 173.2L534.9 161.6L533.7 167.8L532.5 167.9L531.3 166.6L530.1 166.0L528.9 167.1L527.7 162.9L526.5 174.7L525.3 171.5L524.1 168.3L523.0 163.6L521.8 167.3L520.6 164.5L519.4 178.4L518.2 174.0L517.0 175.3L515.8 168.4L514.6 175.6L513.4 169.6L512.2 182.4L511.0 174.8L509.8 175.6L508.6 171.4L507.4 175.5L506.2 179.2L505.0 181.4L503.8 179.3L502.6 183.6L501.4 187.2L500.2 187.6L499.0 178.1L497.8 186.4L496.6 180.3L495.4 186.4L494.3 186.4L493.1 190.9L491.9 183.8L490.7 189.9L489.5 189.9L488.3 200.6L487.1 192.1L485.9 191.8L484.7 194.5L483.5 193.5L482.3 191.3L481.1 202.0L479.9 194.5L478.7 201.3L477.5 193.5L476.3 199.1L475.1 195.8L473.9 201.1L472.7 197.2L471.5 199.3L470.3 199.0L469.1 201.5L467.9 201.8L466.7 210.7L465.6 204.2L464.4 205.7L463.2 208.2L462.0 209.0L460.8 209.8L459.6 216.5L458.4 212.5L457.2 217.5L456.0 214.9L454.8 218.2L453.6 221.6L452.4 218.2L451.2 217.3L450.0 222.1L448.8 218.4L447.6 226.6L446.4 224.7L445.2 229.8L444.0 224.5L442.8 226.6L441.6 226.3L440.4 228.0L439.2 231.9L438.0 232.6L436.9 235.1L435.7 236.4L434.5 234.7L433.3 238.5L432.1 238.4L430.9 240.7L429.7 240.3L428.5 244.7L427.3 242.8L426.1 248.6L424.9 248.8L423.7 252.4L422.5 252.5L421.3 254.2L420.1 253.7L418.9 255.9L417.7 257.1L416.5 259.5L415.3 259.7L414.1 263.1L412.9 262.7L411.7 267.3L410.5 266.5L409.3 269.2L408.2 270.1L407.0 273.2L405.8 273.9L404.6 276.2L403.4 278.4L402.2 280.6L401.0 281.9L399.8 284.9L398.6 286.2L397.4 288.5L396.2 290.8L395.0 292.9Z" fill="#c6c6c6"/>
<path d="M395.0 292.7L396.2 289.7L397.4 288.2L398.6 285.4L399.8 284.0L401.0 280.9L402.2 280.1L403.4 276.7L404.6 275.8L405.8 272.2L407.0 272.3L408.2 268.3L409.3 268.0L410.5 264.3L411.7 265.1L412.9 259.6L414.1 261.6L415.3 255.9L416.5 257.3L417.7 253.2L418.9 254.7L420.1 248.3L421.3 250.8L422.5 249.0L423.7 248.7L424.9 240.5L426.1 247.3L427.3 239.2L428.5 242.1L429.7 234.7L430.9 238.5L432.1 232.5L433.3 236.0L434.5 229.5L435.7 233.9L436.9 225.4L438.0 229.9L439.2 223.9L440.4 226.5L441.6 220.5L442.8 217.4L444.0 217.0L445.2 226.1L446.4 215.7L447.6 221.3L448.8 207.3L450.0 217.9L451.2 207.9L452.4 214.3L453.6 217.8L454.8 214.7L456.0 200.9L457.2 213.2L458.4 201.1L459.6 209.1L460.8 200.6L462.0 204.9L463.2 205.6L464.4 195.4L465.6 195.5L466.7 204.9L467.9 191.1L469.1 199.5L470.3 191.1L471.5 196.9L472.7 189.2L473.9 197.0L475.1 185.4L476.3 192.9L477.5 181.0L478.7 191.9L479.9 181.4L481.1 192.4L482.3 176.4L483.5 188.3L484.7 172.0L485.9 189.2L487.1 172.4L488.3 193.2L489.5 184.5L490.7 186.3L491.9 171.2L493.1 181.8L494.3 169.7L495.4 182.8L496.6 166.6L497.8 180.6L499.0 168.0L500.2 182.3L501.4 179.0L502.6 175.2L503.8 160.5L505.0 175.3L506.2 160.8L507.4 171.2L508.6 158.9L509.8 172.7L511.0 169.9L512.2 174.7L513.4 157.7L514.6 167.9L515.8 156.2L517.0 167.2L518.2 155.9L519.4 170.3L520.6 143.0L521.8 164.1L523.0 148.2L524.1 162.7L525.3 147.9L526.5 165.8L527.7 148.8L528.9 162.9L530.1 146.3L531.3 161.1L532.5 164.0L533.7 164.9L534.9 141.5L536.1 166.0L537.3 143.0L538.5 155.0L539.7 143.5L540.9 154.7L542.1 137.5L543.3 153.0L544.5 132.4L545.7 156.7L546.9 138.8L548.1 151.5L549.3 134.1L550.5 160.9L551.7 138.0L552.8 148.6L554.0 147.6L555.2 151.6L556.4 133.6L557.6 163.8L558.8 130.8L560.0 147.2L561.2 132.2L562.4 146.9L563.6 125.2L564.8 146.0L566.0 129.5L567.2 129.6L568.4 125.6L569.6 141.5L570.8 126.1L572.0 141.9L573.2 127.5L574.4 119.4L575.6 126.9L576.8 141.5L578.0 138.3L579.2 142.6L580.4 125.8L581.5 137.3L582.7 112.3L583.9 141.3L585.1 121.4L586.3 142.3L587.5 119.5L588.7 132.9L589.9 118.0L591.1 133.7L592.3 119.2L593.5 141.4L594.7 138.8L595.9 104.0L597.1 135.8L598.3 132.9L599.5 112.1L600.7 129.3L601.9 112.2L603.1 139.8L604.3 105.5L605.5 138.2L606.7 109.0L607.9 132.2L609.1 108.9L610.2 132.5L611.4 99.1L612.6 107.4L613.8 111.5L615.0 125.1L616.2 109.7L617.4 136.7L618.6 110.6L619.8 130.7L621.0 104.9L622.2 133.8L623.4 99.1L624.6 125.3L625.8 106.8L627.0 121.3L628.2 108.3L629.4 127.5L630.6 103.8L631.8 127.5L633.0 105.9L634.2 133.2L635.4 104.6L636.6 132.2L637.8 98.0L638.9 125.1L640.1 102.4L641.3 123.6L642.5 98.8L643.7 119.9L644.9 102.7L646.1 123.8L647.3 101.2L648.5 124.7L649.7 98.0L650.9 116.2L652.1 98.8L653.3 114.1L654.5 100.9L655.7 119.3L656.9 99.1L658.1 113.5L659.3 98.2L660.5 118.1L661.7 93.1L662.9 96.6L664.1 95.5L665.3 115.3L666.5 85.6L667.6 119.3L668.8 98.1L670.0 122.1L671.2 79.6L672.4 121.7L673.6 87.1L674.8 110.6L676.0 94.9L677.2 109.9L678.4 95.5L679.6 112.4L680.8 88.5" fill="none" stroke="#111111" stroke-width="1.00" stroke-linejoin="miter" stroke-miterlimit="3"/>
<path d="M395.0 292.2L396.2 291.0L397.3 290.3L398.5 288.7L399.6 288.5L400.8 287.4L401.9 285.9L403.1 285.2L404.2 284.2L405.4 283.8L406.5 283.1L407.7 280.3L408.8 281.6L410.0 279.4L411.1 279.7L412.3 276.9L413.4 277.6L414.6 275.2L415.7 276.4L416.9 274.0L418.0 272.5L419.2 273.5L420.4 272.1L421.5 269.1L422.7 270.9L423.8 269.3L425.0 266.8L426.1 266.1L427.3 264.9L428.4 264.9L429.6 265.5L430.7 261.2L431.9 264.6L433.0 262.3L434.2 263.1L435.3 261.3L436.5 257.7L437.6 257.2L438.8 259.0L439.9 256.4L441.1 257.2L442.2 255.1L443.4 255.0L444.6 252.6L445.7 254.7L446.9 247.5L448.0 253.2L449.2 248.6L450.3 251.5L451.5 245.9L452.6 250.3L453.8 245.5L454.9 244.3L456.1 243.2L457.2 247.7L458.4 239.2L459.5 240.8L460.7 239.0L461.8 238.7L463.0 237.4L464.1 237.9L465.3 233.9L466.4 239.0L467.6 235.4L468.8 233.7L469.9 237.3L471.1 237.1L472.2 232.0L473.4 237.1L474.5 228.0L475.7 233.5L476.8 227.8L478.0 231.1L479.1 228.0L480.3 231.9L481.4 223.9L482.6 229.6L483.7 223.3L484.9 229.2L486.0 218.7L487.2 220.6L488.3 221.5L489.5 226.8L490.7 221.2L491.8 222.0L493.0 221.6L494.1 223.3L495.3 220.1L496.4 222.6L497.6 215.7L498.7 220.7L499.9 211.1L501.0 212.3L502.2 215.7L503.3 217.0L504.5 216.1L505.6 209.7L506.8 209.3L507.9 211.0L509.1 203.5L510.2 209.5L511.4 201.1L512.5 208.1L513.7 199.5L514.9 202.6L516.0 206.3L517.2 203.9L518.3 201.6L519.5 205.9L520.6 199.7L521.8 202.9L522.9 200.3L524.1 200.4L525.2 200.6L526.4 193.6L527.5 195.9L528.7 203.2L529.8 192.4L531.0 193.4L532.1 194.5L533.3 200.2L534.4 194.7L535.6 195.6L536.7 188.9L537.9 188.0L539.1 186.6L540.2 195.3L541.4 180.4L542.5 194.0L543.7 179.8L544.8 187.0L546.0 183.6L547.1 181.8L548.3 185.2L549.4 182.1L550.6 182.1L551.7 184.2L552.9 181.5L554.0 184.5L555.2 172.3L556.3 173.1L557.5 182.5L558.6 180.8L559.8 171.1L560.9 183.4L562.1 173.6L563.3 176.2L564.4 171.8L565.6 179.4L566.7 163.8L567.9 172.1L569.0 156.3L570.2 165.1L571.3 165.5L572.5 171.1L573.6 173.3L574.8 170.0L575.9 154.6L577.1 169.4L578.2 159.4L579.4 155.6L580.5 155.7L581.7 159.8L582.8 161.6L584.0 154.3L585.1 148.0L586.3 152.7L587.5 156.6L588.6 163.0L589.8 148.4L590.9 161.0L592.1 141.5L593.2 152.2L594.4 141.9L595.5 160.6L596.7 153.2L597.8 159.0L599.0 139.5L600.1 142.9L601.3 143.6L602.4 151.0L603.6 141.8L604.7 134.5L605.9 119.3L607.0 149.1L608.2 139.0L609.3 151.5L610.5 137.0L611.7 145.5L612.8 128.4L614.0 149.6L615.1 137.0L616.3 144.5L617.4 137.0L618.6 139.2L619.7 117.0L620.9 127.8L622.0 135.4L623.2 140.7L624.3 127.0L625.5 142.4L626.6 106.7L627.8 128.2L628.9 113.3L630.1 135.0L631.2 118.9L632.4 126.3L633.6 125.1L634.7 123.1L635.9 111.2L637.0 127.4L638.2 117.1L639.3 113.6L640.5 108.2L641.6 122.7L642.8 119.2L643.9 128.5L645.1 102.4L646.2 114.5L647.4 117.7L648.5 106.1L649.7 105.9L650.8 123.7L652.0 107.9L653.1 121.1L654.3 97.1L655.4 119.1L656.6 102.7L657.8 111.2L658.9 99.3L660.1 100.4L661.2 106.4L662.4 112.1L663.5 93.8L664.7 107.8L665.8 101.6L667.0 92.3L668.1 92.5L669.3 96.4L670.4 87.0L671.6 87.0L672.7 77.6L673.9 105.5L675.0 100.3L676.2 104.6L677.3 79.0L678.5 98.5L679.6 90.8L680.8 93.0L680.8 133.7L679.6 124.8L678.5 135.3L677.3 133.9L676.2 145.5L675.0 139.0L673.9 133.5L672.7 145.3L671.6 145.4L670.4 145.0L669.3 157.0L668.1 133.7L667.0 139.5L665.8 137.8L664.7 153.0L663.5 136.3L662.4 149.1L661.2 141.9L660.1 160.7L658.9 158.2L657.8 158.6L656.6 144.3L655.4 164.7L654.3 145.4L653.1 157.2L652.0 161.5L650.8 148.2L649.7 157.7L648.5 150.5L647.4 154.8L646.2 164.2L645.1 150.8L643.9 155.4L642.8 160.6L641.6 185.7L640.5 169.1L639.3 163.6L638.2 170.5L637.0 170.3L635.9 171.8L634.7 177.1L633.6 173.1L632.4 167.5L631.2 164.2L630.1 181.9L628.9 165.0L627.8 162.2L626.6 164.1L625.5 169.3L624.3 161.6L623.2 187.6L622.0 162.9L620.9 166.6L619.7 180.8L618.6 175.9L617.4 177.9L616.3 175.0L615.1 178.6L614.0 175.5L612.8 182.8L611.7 194.0L610.5 172.8L609.3 192.3L608.2 182.0L607.0 177.5L605.9 177.7L604.7 175.8L603.6 173.6L602.4 188.5L601.3 176.0L600.1 191.0L599.0 180.7L597.8 194.2L596.7 188.3L595.5 192.9L594.4 194.0L593.2 185.1L592.1 183.5L590.9 184.8L589.8 183.3L588.6 205.0L587.5 187.5L586.3 194.8L585.1 188.5L584.0 207.6L582.8 193.8L581.7 195.6L580.5 193.7L579.4 193.1L578.2 201.4L577.1 205.3L575.9 199.0L574.8 207.9L573.6 192.3L572.5 205.4L571.3 195.0L570.2 203.7L569.0 194.1L567.9 194.2L566.7 195.2L565.6 204.0L564.4 200.2L563.3 206.6L562.1 198.9L560.9 214.8L559.8 200.3L558.6 210.9L557.5 215.6L556.3 213.6L555.2 212.7L554.0 206.4L552.9 210.1L551.7 207.0L550.6 203.5L549.4 216.5L548.3 211.4L547.1 214.4L546.0 214.2L544.8 211.2L543.7 215.2L542.5 221.8L541.4 214.6L540.2 219.1L539.1 210.8L537.9 211.9L536.7 217.9L535.6 224.6L534.4 214.1L533.3 222.8L532.1 214.4L531.0 224.3L529.8 215.0L528.7 219.2L527.5 218.5L526.4 223.7L525.2 226.3L524.1 226.8L522.9 227.3L521.8 219.1L520.6 222.3L519.5 232.0L518.3 220.6L517.2 222.8L516.0 222.1L514.9 226.9L513.7 229.5L512.5 233.4L511.4 226.8L510.2 228.7L509.1 227.9L507.9 236.6L506.8 225.7L505.6 244.5L504.5 227.1L503.3 234.2L502.2 230.9L501.0 230.8L499.9 230.0L498.7 237.7L497.6 237.8L496.4 235.6L495.3 232.8L494.1 241.4L493.0 234.1L491.8 239.0L490.7 236.4L489.5 235.7L488.3 239.5L487.2 242.5L486.0 237.0L484.9 240.9L483.7 238.2L482.6 242.3L481.4 239.8L480.3 243.4L479.1 244.8L478.0 245.9L476.8 242.8L475.7 243.4L474.5 245.2L473.4 252.2L472.2 249.1L471.1 248.8L469.9 245.8L468.8 249.6L467.6 247.2L466.4 250.1L465.3 248.7L464.1 255.1L463.0 253.3L461.8 254.2L460.7 250.6L459.5 255.9L458.4 256.0L457.2 255.9L456.1 253.3L454.9 256.1L453.8 256.6L452.6 257.9L451.5 256.6L450.3 258.7L449.2 257.5L448.0 262.1L446.9 260.4L445.7 263.0L444.6 262.1L443.4 265.6L442.2 264.5L441.1 266.7L439.9 262.9L438.8 264.0L437.6 265.8L436.5 268.3L435.3 266.1L434.2 269.4L433.0 267.6L431.9 269.7L430.7 268.8L429.6 270.0L428.4 270.3L427.3 273.1L426.1 271.6L425.0 273.3L423.8 275.2L422.7 274.8L421.5 275.3L420.4 276.5L419.2 277.0L418.0 278.2L416.9 278.1L415.7 278.6L414.6 280.1L413.4 281.1L412.3 280.5L411.1 282.4L410.0 282.3L408.8 283.0L407.7 283.7L406.5 286.1L405.4 285.5L404.2 286.9L403.1 287.1L401.9 288.1L400.8 288.8L399.6 289.6L398.5 290.2L397.3 291.4L396.2 291.9L395.0 292.8Z" fill="#fac98a"/>
<path d="M395.0 292.0L396.2 291.7L397.5 291.3L398.7 290.6L400.0 290.6L401.2 290.0L402.5 289.9L403.7 288.7L404.9 288.9L406.2 288.2L407.4 287.2L408.7 286.1L409.9 287.2L411.2 285.3L412.4 286.3L413.6 284.8L414.9 285.4L416.1 284.3L417.4 284.4L418.6 282.1L419.9 283.4L421.1 281.8L422.3 282.3L423.6 280.5L424.8 281.2L426.1 278.7L427.3 280.2L428.6 276.6L429.8 278.1L431.0 278.0L432.3 277.1L433.5 275.6L434.8 276.9L436.0 272.9L437.2 275.2L438.5 270.3L439.7 272.3L441.0 271.6L442.2 272.3L443.5 271.6L444.7 271.6L445.9 270.2L447.2 268.4L448.4 269.1L449.7 269.8L450.9 266.9L452.2 266.7L453.4 263.3L454.6 264.4L455.9 263.6L457.1 265.3L458.4 261.0L459.6 264.1L460.9 262.2L462.1 261.2L463.3 258.7L464.6 261.8L465.8 259.2L467.1 259.7L468.3 258.8L469.6 259.0L470.8 254.2L472.0 256.2L473.3 256.3L474.5 254.3L475.8 252.6L477.0 251.9L478.3 250.1L479.5 252.5L480.7 247.7L482.0 251.0L483.2 247.9L484.5 248.6L485.7 244.6L487.0 246.6L488.2 242.0L489.4 245.4L490.7 244.5L491.9 242.6L493.2 241.5L494.4 242.6L495.7 235.5L496.9 239.3L498.1 238.9L499.4 240.1L500.6 234.8L501.9 237.5L503.1 235.0L504.3 236.7L505.6 235.2L506.8 234.3L508.1 232.3L509.3 232.6L510.6 229.4L511.8 228.5L513.0 229.9L514.3 231.4L515.5 224.7L516.8 229.6L518.0 225.6L519.3 224.8L520.5 220.3L521.7 224.3L523.0 224.2L524.2 219.6L525.5 218.6L526.7 217.8L528.0 215.6L529.2 220.6L530.4 217.1L531.7 214.6L532.9 213.9L534.2 215.3L535.4 210.2L536.7 214.7L537.9 211.8L539.1 214.1L540.4 209.0L541.6 210.7L542.9 204.0L544.1 207.8L545.4 199.3L546.6 207.8L547.8 204.6L549.1 202.6L550.3 193.6L551.6 203.5L552.8 196.8L554.1 193.7L555.3 190.7L556.5 198.9L557.8 194.3L559.0 198.1L560.3 191.5L561.5 197.1L562.8 186.6L564.0 194.5L565.2 190.4L566.5 191.5L567.7 178.4L569.0 191.8L570.2 183.5L571.5 187.0L572.7 181.5L573.9 187.0L575.2 182.9L576.4 178.6L577.7 178.5L578.9 178.4L580.1 172.1L581.4 172.3L582.6 172.2L583.9 176.9L585.1 171.7L586.4 176.1L587.6 165.3L588.8 173.2L590.1 167.3L591.3 164.9L592.6 163.9L593.8 164.5L595.1 163.5L596.3 164.4L597.5 159.9L598.8 158.5L600.0 159.3L601.3 163.4L602.5 155.5L603.8 156.4L605.0 148.4L606.2 150.9L607.5 138.4L608.7 158.2L610.0 149.6L611.2 155.9L612.5 154.2L613.7 155.6L614.9 135.7L616.2 144.1L617.4 148.4L618.7 152.1L619.9 142.4L621.2 147.0L622.4 131.4L623.6 140.0L624.9 131.2L626.1 143.9L627.4 139.2L628.6 142.1L629.9 127.3L631.1 126.1L632.3 119.9L633.6 133.5L634.8 114.8L636.1 131.7L637.3 122.5L638.6 133.3L639.8 116.2L641.0 116.7L642.3 127.7L643.5 114.4L644.8 121.7L646.0 130.1L647.2 114.6L648.5 127.2L649.7 97.2L651.0 107.3L652.2 104.9L653.5 105.0L654.7 98.2L655.9 114.1L657.2 114.1L658.4 118.0L659.7 94.7L660.9 104.9L662.2 95.3L663.4 110.1L664.6 108.1L665.9 97.7L667.1 83.7L668.4 110.0L669.6 93.4L670.9 108.8L672.1 89.5L673.3 87.5L674.6 98.8L675.8 103.2L677.1 83.6L678.3 102.4L679.6 73.8L680.8 98.7L680.8 132.1L679.6 127.5L678.3 139.8L677.1 126.5L675.8 141.0L674.6 134.6L673.3 153.2L672.1 137.9L670.9 158.9L669.6 151.4L668.4 141.1L667.1 133.6L665.9 139.5L664.6 135.2L663.4 150.1L662.2 151.9L660.9 156.3L659.7 145.2L658.4 148.1L657.2 147.7L655.9 159.0L654.7 143.8L653.5 153.7L652.2 144.0L651.0 167.1L649.7 159.0L648.5 162.7L647.2 159.1L646.0 171.6L644.8 149.6L643.5 173.2L642.3 156.5L641.0 175.5L639.8 171.6L638.6 179.7L637.3 157.1L636.1 183.2L634.8 175.0L633.6 178.0L632.3 163.5L631.1 170.2L629.9 172.5L628.6 175.7L627.4 163.9L626.1 169.8L624.9 168.1L623.6 175.3L622.4 174.8L621.2 181.4L619.9 178.0L618.7 172.9L617.4 184.2L616.2 185.2L614.9 182.3L613.7 184.9L612.5 172.6L611.2 184.4L610.0 182.7L608.7 189.1L607.5 177.6L606.2 195.4L605.0 188.7L603.8 188.6L602.5 193.2L601.3 193.3L600.0 187.4L598.8 195.5L597.5 185.4L596.3 203.7L595.1 191.2L593.8 209.4L592.6 192.0L591.3 207.5L590.1 197.7L588.8 205.1L587.6 200.0L586.4 208.2L585.1 199.8L583.9 203.5L582.6 206.7L581.4 205.5L580.1 208.2L578.9 203.4L577.7 198.9L576.4 201.7L575.2 200.6L573.9 213.0L572.7 202.3L571.5 218.7L570.2 209.5L569.0 221.2L567.7 215.5L566.5 219.0L565.2 211.0L564.0 214.8L562.8 210.2L561.5 221.4L560.3 211.4L559.0 226.1L557.8 220.1L556.5 222.8L555.3 216.2L554.1 218.6L552.8 219.3L551.6 232.0L550.3 222.3L549.1 245.8L547.8 220.1L546.6 223.8L545.4 230.4L544.1 242.8L542.9 222.9L541.6 233.6L540.4 229.6L539.1 240.9L537.9 226.6L536.7 233.3L535.4 226.3L534.2 235.9L532.9 232.5L531.7 236.3L530.4 231.8L529.2 242.9L528.0 230.6L526.7 243.1L525.5 244.2L524.2 242.7L523.0 238.7L521.7 243.6L520.5 239.8L519.3 238.4L518.0 242.1L516.8 240.3L515.5 244.2L514.3 243.5L513.0 240.6L511.8 249.4L510.6 242.1L509.3 248.5L508.1 246.3L506.8 250.2L505.6 246.9L504.3 247.9L503.1 246.1L501.9 248.2L500.6 253.2L499.4 253.5L498.1 256.4L496.9 252.6L495.7 258.6L494.4 253.7L493.2 254.9L491.9 260.7L490.7 254.7L489.4 259.6L488.2 257.3L487.0 261.9L485.7 256.1L484.5 259.0L483.2 257.6L482.0 263.2L480.7 258.8L479.5 261.1L478.3 264.0L477.0 267.3L475.8 262.3L474.5 271.2L473.3 263.0L472.0 270.4L470.8 266.4L469.6 274.3L468.3 266.4L467.1 268.1L465.8 266.9L464.6 271.6L463.3 269.7L462.1 271.1L460.9 269.4L459.6 274.8L458.4 273.4L457.1 274.3L455.9 271.7L454.6 273.1L453.4 272.8L452.2 275.7L450.9 273.8L449.7 277.7L448.4 277.3L447.2 282.5L445.9 277.7L444.7 277.0L443.5 277.0L442.2 280.0L441.0 278.9L439.7 281.8L438.5 280.5L437.2 284.1L436.0 280.4L434.8 282.0L433.5 281.2L432.3 283.2L431.0 282.9L429.8 284.1L428.6 284.4L427.3 284.4L426.1 284.1L424.8 285.6L423.6 286.3L422.3 286.2L421.1 286.2L419.9 285.7L418.6 286.4L417.4 287.5L416.1 288.5L414.9 288.9L413.6 287.5L412.4 289.2L411.2 289.5L409.9 289.2L408.7 290.0L407.4 290.7L406.2 290.4L404.9 290.8L403.7 290.8L402.5 291.0L401.2 291.7L400.0 292.7L398.7 292.2L397.5 292.6L396.2 292.7L395.0 293.1Z" fill="#5ab6ea" fill-opacity="0.7"/>
<path d="M395.0 292.6L396.2 291.4L397.3 291.0L398.5 289.4L399.6 289.3L400.8 287.7L401.9 287.8L403.1 286.0L404.2 286.2L405.4 284.3L406.5 284.9L407.7 281.8L408.8 282.7L410.0 280.3L411.1 281.2L412.3 277.6L413.4 280.5L414.6 276.7L415.7 278.0L416.9 275.7L418.0 274.6L419.2 274.2L420.4 275.0L421.5 271.9L422.7 274.3L423.8 274.2L425.0 272.7L426.1 268.0L427.3 271.0L428.4 266.7L429.6 269.0L430.7 263.5L431.9 269.0L433.0 264.0L434.2 266.9L435.3 262.5L436.5 266.0L437.6 260.1L438.8 263.1L439.9 258.9L441.1 262.8L442.2 256.3L443.4 262.2L444.6 255.8L445.7 260.3L446.9 252.5L448.0 257.6L449.2 250.8L450.3 257.6L451.5 252.2L452.6 255.9L453.8 249.5L454.9 253.4L456.1 246.2L457.2 253.4L458.4 244.9L459.5 252.8L460.7 244.5L461.8 249.6L463.0 242.7L464.1 249.3L465.3 240.0L466.4 248.2L467.6 241.7L468.8 248.1L469.9 239.6L471.1 245.2L472.2 236.7L473.4 246.9L474.5 231.7L475.7 241.3L476.8 234.6L478.0 241.1L479.1 232.1L480.3 241.7L481.4 231.4L482.6 237.6L483.7 230.5L484.9 238.8L486.0 222.2L487.2 235.1L488.3 226.5L489.5 233.8L490.7 227.6L491.8 235.4L493.0 224.7L494.1 232.5L495.3 224.4L496.4 232.7L497.6 220.9L498.7 233.9L499.9 221.3L501.0 228.6L502.2 220.3L503.3 228.9L504.5 219.0L505.6 234.1L506.8 216.2L507.9 226.3L509.1 209.6L510.2 222.8L511.4 212.0L512.5 223.1L513.7 203.7L514.9 222.0L516.0 212.4L517.2 220.1L518.3 207.5L519.5 223.3L520.6 208.2L521.8 216.5L522.9 206.6L524.1 218.9L525.2 206.5L526.4 220.7L527.5 200.2L528.7 214.3L529.8 203.6L531.0 215.2L532.1 199.5L533.3 210.9L534.4 197.9L535.6 210.5L536.7 195.9L537.9 193.6L539.1 195.6L540.2 210.7L541.4 196.3L542.5 210.8L543.7 185.2L544.8 205.2L546.0 194.3L547.1 206.9L548.3 188.6L549.4 208.3L550.6 186.7L551.7 200.6L552.9 190.3L554.0 201.4L555.2 181.4L556.3 199.5L557.5 200.9L558.6 207.2L559.8 178.8L560.9 204.5L562.1 183.3L563.3 202.5L564.4 175.6L565.6 199.2L566.7 174.9L567.9 177.3L569.0 174.5L570.2 190.7L571.3 174.8L572.5 198.1L573.6 177.7L574.8 202.0L575.9 167.1L577.1 192.8L578.2 171.5L579.4 166.8L580.5 171.5L581.7 191.2L582.8 169.6L584.0 194.2L585.1 166.7L586.3 189.7L587.5 162.6L588.6 186.3L589.8 168.3L590.9 180.0L592.1 152.6L593.2 178.6L594.4 159.6L595.5 187.6L596.7 160.2L597.8 179.7L599.0 150.4L600.1 180.0L601.3 160.9L602.4 172.0L603.6 152.7L604.7 153.0L605.9 134.5L607.0 172.7L608.2 147.6L609.3 171.9L610.5 152.6L611.7 173.4L612.8 146.6L614.0 170.7L615.1 150.2L616.3 166.4L617.4 144.1L618.6 166.6L619.7 139.5L620.9 160.9L622.0 142.1L623.2 166.1L624.3 140.2L625.5 159.9L626.6 124.8L627.8 157.5L628.9 130.7L630.1 159.8L631.2 128.7L632.4 155.4L633.6 135.8L634.7 168.8L635.9 127.9L637.0 158.6L638.2 133.1L639.3 155.1L640.5 133.1L641.6 162.6L642.8 130.7L643.9 146.3L645.1 121.5L646.2 153.1L647.4 126.7L648.5 143.5L649.7 126.4L650.8 142.3L652.0 120.8L653.1 147.3L654.3 120.2L655.4 146.6L656.6 115.4L657.8 147.2L658.9 105.7L660.1 150.4L661.2 116.9L662.4 137.8L663.5 111.8L664.7 144.9L665.8 115.6L667.0 133.4L668.1 100.2L669.3 142.7L670.4 97.6L671.6 139.3L672.7 105.6L673.9 127.7L675.0 107.4L676.2 134.7L677.3 102.6L678.5 127.0L679.6 105.5L680.8 125.6" fill="none" stroke="#f0a02c" stroke-width="0.85" stroke-linejoin="miter" stroke-miterlimit="3"/>
<path d="M395.0 292.7L396.2 291.9L397.5 292.0L398.7 291.2L400.0 291.8L401.2 290.2L402.5 290.7L403.7 289.5L404.9 290.2L406.2 288.6L407.4 289.3L408.7 286.8L409.9 288.3L411.2 286.9L412.4 287.7L413.6 285.8L414.9 286.8L416.1 284.9L417.4 286.3L418.6 283.7L419.9 285.0L421.1 282.9L422.3 284.3L423.6 281.0L424.8 284.0L426.1 280.7L427.3 282.9L428.6 279.2L429.8 281.1L431.0 278.9L432.3 281.1L433.5 277.4L434.8 279.5L436.0 275.8L437.2 278.8L438.5 273.2L439.7 277.7L441.0 272.3L442.2 277.4L443.5 272.5L444.7 275.2L445.9 276.2L447.2 278.2L448.4 270.3L449.7 275.0L450.9 268.0L452.2 271.4L453.4 265.2L454.6 270.9L455.9 266.5L457.1 271.0L458.4 264.2L459.6 268.7L460.9 263.3L462.1 268.5L463.3 259.8L464.6 266.8L465.8 260.6L467.1 265.9L468.3 259.9L469.6 264.9L470.8 257.4L472.0 264.9L473.3 257.6L474.5 262.0L475.8 254.8L477.0 258.7L478.3 252.7L479.5 257.4L480.7 252.5L482.0 260.0L483.2 249.4L484.5 256.6L485.7 249.6L487.0 255.0L488.2 245.4L489.4 256.4L490.7 247.0L491.9 251.2L493.2 243.9L494.4 249.1L495.7 240.9L496.9 248.5L498.1 241.6L499.4 248.5L500.6 240.4L501.9 245.0L503.1 239.2L504.3 244.6L505.6 237.2L506.8 242.7L508.1 235.8L509.3 243.7L510.6 231.1L511.8 244.4L513.0 232.6L514.3 239.8L515.5 227.2L516.8 235.5L518.0 229.1L519.3 234.1L520.5 224.9L521.7 238.0L523.0 226.0L524.2 233.1L525.5 220.3L526.7 231.2L528.0 219.1L529.2 230.9L530.4 220.0L531.7 227.5L532.9 218.0L534.2 230.1L535.4 216.5L536.7 229.4L537.9 214.3L539.1 226.9L540.4 213.7L541.6 225.8L542.9 206.7L544.1 225.7L545.4 207.5L546.6 219.4L547.8 206.4L549.1 229.0L550.3 202.2L551.6 218.8L552.8 201.7L554.1 200.6L555.3 193.9L556.5 212.3L557.8 198.3L559.0 215.3L560.3 197.6L561.5 212.3L562.8 193.8L564.0 209.3L565.2 195.8L566.5 208.5L567.7 187.2L569.0 211.1L570.2 186.3L571.5 202.6L572.7 189.4L573.9 202.8L575.2 186.4L576.4 197.1L577.7 185.1L578.9 198.8L580.1 183.5L581.4 197.5L582.6 180.3L583.9 194.1L585.1 175.7L586.4 194.6L587.6 175.6L588.8 191.4L590.1 171.6L591.3 187.3L592.6 168.1L593.8 188.5L595.1 167.1L596.3 190.4L597.5 163.6L598.8 182.9L600.0 166.4L601.3 178.8L602.5 160.4L603.8 176.8L605.0 164.5L606.2 186.3L607.5 148.0L608.7 174.8L610.0 155.6L611.2 175.8L612.5 159.2L613.7 173.3L614.9 146.0L616.2 174.6L617.4 155.1L618.7 166.0L619.9 151.1L621.2 169.3L622.4 150.4L623.6 162.7L624.9 147.6L626.1 163.4L627.4 145.9L628.6 159.3L629.9 133.3L631.1 164.1L632.3 131.9L633.6 165.3L634.8 132.7L636.1 162.7L637.3 130.0L638.6 155.8L639.8 130.9L641.0 159.6L642.3 135.3L643.5 148.9L644.8 126.8L646.0 149.5L647.2 131.0L648.5 143.3L649.7 117.7L651.0 142.4L652.2 119.7L653.5 146.8L654.7 118.5L655.9 141.4L657.2 123.8L658.4 141.2L659.7 117.9L660.9 146.5L662.2 113.4L663.4 133.8L664.6 114.3L665.9 132.5L667.1 109.6L668.4 131.7L669.6 114.2L670.9 139.2L672.1 101.1L673.3 138.3L674.6 107.3L675.8 128.7L677.1 97.7L678.3 130.4L679.6 93.1L680.8 123.3" fill="none" stroke="#2a6cc0" stroke-width="0.85" stroke-linejoin="miter" stroke-miterlimit="3"/>
<path d="M395.0 292.5L397.9 287.1L400.8 281.9L403.7 276.8L406.5 271.9L409.4 267.2L412.3 262.6L415.2 258.2L418.1 253.9L421.0 249.7L423.9 245.7L426.8 241.8L429.6 238.0L432.5 234.3L435.4 230.7L438.3 227.3L441.2 223.9L444.1 220.7L447.0 217.5L449.9 214.4L452.7 211.4L455.6 208.5L458.5 205.7L461.4 202.9L464.3 200.2L467.2 197.6L470.1 195.1L472.9 192.6L475.8 190.2L478.7 187.8L481.6 185.5L484.5 183.3L487.4 181.1L490.3 178.9L493.2 176.9L496.0 174.8L498.9 172.8L501.8 170.9L504.7 169.0L507.6 167.1L510.5 165.3L513.4 163.5L516.2 161.8L519.1 160.1L522.0 158.4L524.9 156.8L527.8 155.2L530.7 153.7L533.6 152.1L536.5 150.6L539.3 149.1L542.2 147.7L545.1 146.3L548.0 144.9L550.9 143.5L553.8 142.2L556.7 140.9L559.6 139.6L562.4 138.4L565.3 137.1L568.2 135.9L571.1 134.7L574.0 133.6L576.9 132.4L579.8 131.3L582.6 130.2L585.5 129.1L588.4 128.0L591.3 127.0L594.2 125.9L597.1 124.9L600.0 123.9L602.9 123.0L605.7 122.0L608.6 121.1L611.5 120.1L614.4 119.2L617.3 118.4L620.2 117.5L623.1 116.6L625.9 115.8L628.8 115.0L631.7 114.1L634.6 113.3L637.5 112.6L640.4 111.8L643.3 111.0L646.2 110.3L649.0 109.6L651.9 108.9L654.8 108.2L657.7 107.5L660.6 106.8L663.5 106.2L666.4 105.5L669.3 104.9L672.1 104.3L675.0 103.7L677.9 103.1L680.8 102.5" fill="none" stroke="#000" stroke-width="1.90" stroke-linecap="butt" stroke-linejoin="round"/>
<path d="M395.0 292.5L397.9 291.7L400.8 290.8L403.7 289.9L406.5 289.0L409.4 288.0L412.3 287.0L415.2 286.0L418.1 284.9L421.0 283.8L423.9 282.7L426.8 281.5L429.6 280.3L432.5 279.1L435.4 277.8L438.3 276.6L441.2 275.2L444.1 273.9L447.0 272.5L449.9 271.1L452.7 269.7L455.6 268.3L458.5 266.8L461.4 265.3L464.3 263.8L467.2 262.2L470.1 260.7L472.9 259.1L475.8 257.4L478.7 255.8L481.6 254.2L484.5 252.5L487.4 250.8L490.3 249.1L493.2 247.3L496.0 245.6L498.9 243.8L501.8 242.0L504.7 240.2L507.6 238.4L510.5 236.5L513.4 234.7L516.2 232.8L519.1 230.9L522.0 229.0L524.9 227.1L527.8 225.1L530.7 223.2L533.6 221.2L536.5 219.3L539.3 217.3L542.2 215.3L545.1 213.3L548.0 211.3L550.9 209.2L553.8 207.2L556.7 205.2L559.6 203.1L562.4 201.0L565.3 199.0L568.2 196.9L571.1 194.8L574.0 192.7L576.9 190.6L579.8 188.5L582.6 186.3L585.5 184.2L588.4 182.1L591.3 180.0L594.2 177.8L597.1 175.7L600.0 173.5L602.9 171.4L605.7 169.2L608.6 167.1L611.5 164.9L614.4 162.7L617.3 160.6L620.2 158.4L623.1 156.2L625.9 154.0L628.8 151.9L631.7 149.7L634.6 147.5L637.5 145.4L640.4 143.2L643.3 141.0L646.2 138.8L649.0 136.7L651.9 134.5L654.8 132.3L657.7 130.2L660.6 128.0L663.5 125.8L666.4 123.7L669.3 121.5L672.1 119.4L675.0 117.2L677.9 115.1L680.8 112.9" fill="none" stroke="#2b4c9e" stroke-width="1.90" stroke-linecap="butt" stroke-linejoin="round"/>
<path d="M395.0 292.5L397.9 290.3L400.8 288.2L403.7 286.1L406.5 284.0L409.4 281.9L412.3 279.8L415.2 277.8L418.1 275.8L421.0 273.8L423.9 271.9L426.8 269.9L429.6 268.0L432.5 266.1L435.4 264.2L438.3 262.3L441.2 260.5L444.1 258.6L447.0 256.8L449.9 255.0L452.7 253.2L455.6 251.4L458.5 249.7L461.4 247.9L464.3 246.2L467.2 244.4L470.1 242.7L472.9 241.0L475.8 239.3L478.7 237.6L481.6 235.9L484.5 234.2L487.4 232.6L490.3 230.9L493.2 229.2L496.0 227.6L498.9 225.9L501.8 224.3L504.7 222.7L507.6 221.0L510.5 219.4L513.4 217.8L516.2 216.1L519.1 214.5L522.0 212.9L524.9 211.3L527.8 209.7L530.7 208.0L533.6 206.4L536.5 204.8L539.3 203.2L542.2 201.5L545.1 199.9L548.0 198.3L550.9 196.6L553.8 195.0L556.7 193.4L559.6 191.7L562.4 190.1L565.3 188.4L568.2 186.7L571.1 185.1L574.0 183.4L576.9 181.7L579.8 180.0L582.6 178.3L585.5 176.6L588.4 174.9L591.3 173.1L594.2 171.4L597.1 169.6L600.0 167.9L602.9 166.1L605.7 164.3L608.6 162.5L611.5 160.7L614.4 158.9L617.3 157.1L620.2 155.2L623.1 153.4L625.9 151.5L628.8 149.6L631.7 147.7L634.6 145.8L637.5 143.9L640.4 142.0L643.3 140.0L646.2 138.0L649.0 136.0L651.9 134.0L654.8 132.0L657.7 130.0L660.6 127.9L663.5 125.8L666.4 123.7L669.3 121.6L672.1 119.5L675.0 117.3L677.9 115.1L680.8 113.0" fill="none" stroke="#f39d1f" stroke-width="1.90" stroke-linecap="butt" stroke-linejoin="round"/>
</g>
<path d="M395.0 108.0H680.8M395.0 200.5H680.8" stroke="#222" stroke-width="1.3" stroke-dasharray="1.3 3.628" stroke-dashoffset="0.5" fill="none"/>
<path d="M395.0 7.5V292.5" stroke="#aaaaaa" stroke-width="1.80" fill="none"/>
<path d="M680.8 7.5V292.5" stroke="#999999" stroke-width="1.60" fill="none"/>
<path d="M394.4 7.5H681.4M394.4 292.5H681.4" stroke="#555" stroke-width="1.2" fill="none"/>
<path d="M423.6 292.5v-4.2M423.6 7.5v4.2M452.2 292.5v-8.5M452.2 7.5v8.5M480.7 292.5v-4.2M480.7 7.5v4.2M509.3 292.5v-8.5M509.3 7.5v8.5M537.9 292.5v-4.2M537.9 7.5v4.2M566.5 292.5v-8.5M566.5 7.5v8.5M595.1 292.5v-4.2M595.1 7.5v4.2M623.6 292.5v-8.5M623.6 7.5v8.5M652.2 292.5v-4.2M652.2 7.5v4.2" stroke="#555" stroke-width="1.1" fill="none"/>
<path d="M395.0 245.0h4.2M680.8 245.0h-4.2M395.0 197.5h8.2M680.8 197.5h-8.2M395.0 150.0h4.2M680.8 150.0h-4.2M395.0 102.5h8.2M680.8 102.5h-8.2M395.0 55.0h4.2M680.8 55.0h-4.2" stroke="#555" stroke-width="1.1" fill="none"/>
<text x="389.0" y="297.3" text-anchor="end" class="t">0</text>
<text x="389.0" y="202.3" text-anchor="end" class="t">50</text>
<text x="389.0" y="107.3" text-anchor="end" class="t">100</text>
<text x="389.0" y="12.3" text-anchor="end" class="t">150</text>
<text x="395.0" y="308.2" text-anchor="middle" class="t">0</text>
<text x="452.2" y="308.2" text-anchor="middle" class="t">0.2</text>
<text x="509.3" y="308.2" text-anchor="middle" class="t">0.4</text>
<text x="566.5" y="308.2" text-anchor="middle" class="t">0.6</text>
<text x="623.6" y="308.2" text-anchor="middle" class="t">0.8</text>
<text x="680.8" y="308.2" text-anchor="middle" class="t">1</text>
<text x="538.3" y="327.8" text-anchor="middle" class="l">Proportion of fish species remaining, <tspan font-family="Liberation Serif" font-style="italic" font-size="15">Φ</tspan></text>
<text x="75.5" y="31" class="pl">a</text>
<text x="411.5" y="31" class="pl">b</text>
<path d="M187.3 219.0H203.6" stroke="#000" stroke-width="1.7"/>
<text x="208.6" y="222.6" class="g">Random</text>
<path d="M187.3 233.6H203.6" stroke="#bb2b37" stroke-width="1.7"/>
<text transform="translate(211.7 239.0) scale(0.75 1)" text-anchor="middle" class="ar">↓</text>
<text x="218.4" y="236.6" class="g">Body mass</text>
<path d="M187.3 249.0H203.6" stroke="#127f4c" stroke-width="1.7"/>
<text transform="translate(211.7 254.3) scale(0.75 1)" text-anchor="middle" class="ar">↓</text>
<text x="218.4" y="251.9" class="g">TL</text>
<path d="M498.7 47.9H515.0" stroke="#000" stroke-width="1.7"/>
<text x="519.8" y="51.5" class="g">Random</text>
<path d="M498.7 61.1H515.0" stroke="#34509c" stroke-width="1.7"/>
<text transform="translate(523.1 66.4) scale(0.75 1)" text-anchor="middle" class="ar">↓</text>
<text x="529.6" y="64.0" class="g">Biomass</text>
<path d="M498.7 76.5H515.0" stroke="#eea43c" stroke-width="1.7"/>
<text transform="translate(523.1 81.8) scale(0.75 1)" text-anchor="middle" class="ar">↓</text>
<text x="529.6" y="79.4" class="g">Connectivity</text>
<text transform="translate(17.6 151.2) rotate(-90)" text-anchor="middle" class="l">Mean total biomass production <tspan font-style="italic">P</tspan> (g m<tspan dy="-4.5" font-size="9">−2</tspan><tspan dy="4.5"> year</tspan><tspan dy="-4.5" font-size="9">−1</tspan><tspan dy="4.5">)</tspan></text>
</svg>
</body></html>
